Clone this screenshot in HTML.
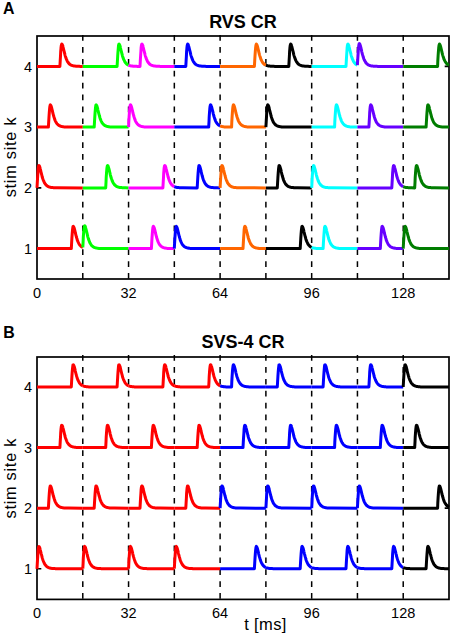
<!DOCTYPE html>
<html><head><meta charset="utf-8"><style>
html,body{margin:0;padding:0;background:#fff;}
body{width:454px;height:635px;overflow:hidden;}
svg{display:block;}
text{font-family:"Liberation Sans",sans-serif;fill:#000;}
.tk{font-size:14.5px;}
.al{font-size:16.3px;letter-spacing:0.75px;}
.ti{font-size:18px;font-weight:bold;}
.pl{font-size:15.9px;font-weight:bold;}
.al2{font-size:16.5px;letter-spacing:0.4px;}
</style></head><body>
<svg width="454" height="635" viewBox="0 0 454 635">
<g stroke="#000" stroke-width="1.70" fill="none">
<rect x="37.00" y="36.00" width="412.00" height="243.00"/>
<path d="M37.00,248.60H41.30M444.70,248.60H449.00"/>
<path d="M37.00,187.87H41.30M444.70,187.87H449.00"/>
<path d="M37.00,127.13H41.30M444.70,127.13H449.00"/>
<path d="M37.00,66.40H41.30M444.70,66.40H449.00"/>
</g>
<g stroke="#000" stroke-width="1.50" stroke-dasharray="5.7 6.2">
<line x1="82.78" y1="35.10" x2="82.78" y2="279.00"/>
<line x1="128.56" y1="35.10" x2="128.56" y2="279.00"/>
<line x1="174.33" y1="35.10" x2="174.33" y2="279.00"/>
<line x1="220.11" y1="35.10" x2="220.11" y2="279.00"/>
<line x1="265.89" y1="35.10" x2="265.89" y2="279.00"/>
<line x1="311.67" y1="35.10" x2="311.67" y2="279.00"/>
<line x1="357.44" y1="35.10" x2="357.44" y2="279.00"/>
<line x1="403.22" y1="35.10" x2="403.22" y2="279.00"/>
</g>
<g fill="none" stroke-width="3.00" stroke-linejoin="round" stroke-linecap="butt">
<path d="M37.0,248.6 L71.3,248.6 L71.6,243.3 L71.9,238.2 L72.2,233.8 L72.5,230.2 L72.8,227.7 L73.0,226.5 L73.2,226.3 L73.3,226.3 L73.6,226.7 L73.9,227.3 L74.2,228.1 L74.5,229.1 L74.8,230.3 L75.1,231.5 L75.3,232.7 L75.6,233.9 L75.9,235.1 L76.2,236.2 L76.5,237.3 L76.8,238.3 L77.1,239.2 L77.3,240.1 L77.6,240.8 L77.9,241.6 L78.2,242.2 L78.5,242.8 L78.8,243.4 L79.1,243.9 L79.3,244.4 L79.6,244.8 L79.9,245.1 L80.2,245.5 L80.5,245.8 L80.8,246.1 L81.1,246.3 L81.3,246.6 L81.6,246.8 L81.9,246.9 L82.2,247.1 L82.5,247.3 L82.8,247.4" stroke="#ff0000"/>
<path d="M82.8,247.4 L83.1,242.2 L83.3,237.3 L83.6,232.9 L83.9,229.5 L84.2,227.0 L84.5,225.8 L84.6,225.7 L84.8,225.8 L85.1,226.1 L85.4,226.8 L85.6,227.7 L85.9,228.8 L86.2,229.9 L86.5,231.2 L86.8,232.4 L87.1,233.7 L87.4,234.9 L87.6,236.0 L87.9,237.1 L88.2,238.1 L88.5,239.1 L88.8,239.9 L89.1,240.7 L89.4,241.5 L89.6,242.1 L89.9,242.8 L90.2,243.3 L90.5,243.8 L90.8,244.3 L91.1,244.7 L91.4,245.1 L91.6,245.4 L91.9,245.8 L92.2,246.0 L92.5,246.3 L92.8,246.5 L93.1,246.7 L93.4,246.9 L93.7,247.1 L93.9,247.2 L94.2,247.4 L94.5,247.5 L94.8,247.6 L95.1,247.7 L95.4,247.8 L95.7,247.9 L95.9,248.0 L96.2,248.0 L96.5,248.1 L96.8,248.1 L97.1,248.2 L97.4,248.2 L97.7,248.3 L97.9,248.3 L98.2,248.3 L98.5,248.4 L98.8,248.4 L99.1,248.4 L99.4,248.4 L99.7,248.4 L99.9,248.5 L100.2,248.5 L100.5,248.5 L100.8,248.5 L101.1,248.5 L101.4,248.5 L101.7,248.5 L101.9,248.5 L102.2,248.5 L102.5,248.5 L102.8,248.6 L128.6,248.6" stroke="#00ff00"/>
<path d="M128.6,248.6 L151.4,248.6 L151.7,243.3 L152.0,238.2 L152.3,233.8 L152.6,230.2 L152.9,227.7 L153.2,226.5 L153.3,226.3 L153.4,226.3 L153.7,226.7 L154.0,227.3 L154.3,228.1 L154.6,229.1 L154.9,230.3 L155.2,231.5 L155.4,232.7 L155.7,233.9 L156.0,235.1 L156.3,236.2 L156.6,237.3 L156.9,238.3 L157.2,239.2 L157.5,240.1 L157.7,240.8 L158.0,241.6 L158.3,242.2 L158.6,242.8 L158.9,243.4 L159.2,243.9 L159.5,244.4 L159.7,244.8 L160.0,245.1 L160.3,245.5 L160.6,245.8 L160.9,246.1 L161.2,246.3 L161.5,246.6 L161.7,246.8 L162.0,246.9 L162.3,247.1 L162.6,247.3 L162.9,247.4 L163.2,247.5 L163.5,247.6 L163.7,247.7 L164.0,247.8 L164.3,247.9 L164.6,248.0 L164.9,248.0 L165.2,248.1 L165.5,248.1 L165.8,248.2 L166.0,248.2 L166.3,248.3 L166.6,248.3 L166.9,248.3 L167.2,248.4 L167.5,248.4 L167.8,248.4 L168.0,248.4 L168.3,248.4 L168.6,248.5 L168.9,248.5 L169.2,248.5 L169.5,248.5 L169.8,248.5 L170.0,248.5 L170.3,248.5 L170.6,248.5 L170.9,248.5 L171.2,248.5 L171.5,248.6 L174.3,248.6" stroke="#ff00ff"/>
<path d="M174.3,248.6 L174.6,243.2 L174.9,238.2 L175.2,233.8 L175.5,230.2 L175.8,227.7 L176.1,226.5 L176.2,226.3 L176.3,226.3 L176.6,226.7 L176.9,227.3 L177.2,228.1 L177.5,229.1 L177.8,230.3 L178.1,231.5 L178.3,232.7 L178.6,233.9 L178.9,235.1 L179.2,236.2 L179.5,237.3 L179.8,238.3 L180.1,239.2 L180.3,240.1 L180.6,240.8 L180.9,241.6 L181.2,242.2 L181.5,242.8 L181.8,243.4 L182.1,243.9 L182.3,244.4 L182.6,244.8 L182.9,245.1 L183.2,245.5 L183.5,245.8 L183.8,246.1 L184.1,246.3 L184.3,246.6 L184.6,246.8 L184.9,246.9 L185.2,247.1 L185.5,247.3 L185.8,247.4 L186.1,247.5 L186.4,247.6 L186.6,247.7 L186.9,247.8 L187.2,247.9 L187.5,248.0 L187.8,248.0 L188.1,248.1 L188.4,248.1 L188.6,248.2 L188.9,248.2 L189.2,248.3 L189.5,248.3 L189.8,248.3 L190.1,248.4 L190.4,248.4 L190.6,248.4 L190.9,248.4 L191.2,248.4 L191.5,248.5 L191.8,248.5 L192.1,248.5 L192.4,248.5 L192.6,248.5 L192.9,248.5 L193.2,248.5 L193.5,248.5 L193.8,248.5 L194.1,248.5 L194.4,248.6 L220.1,248.6" stroke="#0000ff"/>
<path d="M220.1,248.6 L243.0,248.6 L243.3,243.3 L243.6,238.2 L243.9,233.8 L244.1,230.2 L244.4,227.7 L244.7,226.5 L244.9,226.3 L245.0,226.3 L245.3,226.7 L245.6,227.3 L245.9,228.1 L246.1,229.1 L246.4,230.3 L246.7,231.5 L247.0,232.7 L247.3,233.9 L247.6,235.1 L247.9,236.2 L248.1,237.3 L248.4,238.3 L248.7,239.2 L249.0,240.1 L249.3,240.8 L249.6,241.6 L249.9,242.2 L250.2,242.8 L250.4,243.4 L250.7,243.9 L251.0,244.4 L251.3,244.8 L251.6,245.1 L251.9,245.5 L252.2,245.8 L252.4,246.1 L252.7,246.3 L253.0,246.6 L253.3,246.8 L253.6,246.9 L253.9,247.1 L254.2,247.3 L254.4,247.4 L254.7,247.5 L255.0,247.6 L255.3,247.7 L255.6,247.8 L255.9,247.9 L256.2,248.0 L256.4,248.0 L256.7,248.1 L257.0,248.1 L257.3,248.2 L257.6,248.2 L257.9,248.3 L258.2,248.3 L258.5,248.3 L258.7,248.4 L259.0,248.4 L259.3,248.4 L259.6,248.4 L259.9,248.4 L260.2,248.5 L260.5,248.5 L260.7,248.5 L261.0,248.5 L261.3,248.5 L261.6,248.5 L261.9,248.5 L262.2,248.5 L262.5,248.5 L262.7,248.5 L263.0,248.6 L265.9,248.6" stroke="#ff6600"/>
<path d="M265.9,248.6 L300.2,248.6 L300.5,243.3 L300.8,238.2 L301.1,233.8 L301.4,230.2 L301.7,227.7 L301.9,226.5 L302.1,226.3 L302.2,226.3 L302.5,226.7 L302.8,227.3 L303.1,228.1 L303.4,229.1 L303.7,230.3 L303.9,231.5 L304.2,232.7 L304.5,233.9 L304.8,235.1 L305.1,236.2 L305.4,237.3 L305.7,238.3 L305.9,239.2 L306.2,240.1 L306.5,240.8 L306.8,241.6 L307.1,242.2 L307.4,242.8 L307.7,243.4 L307.9,243.9 L308.2,244.4 L308.5,244.8 L308.8,245.1 L309.1,245.5 L309.4,245.8 L309.7,246.1 L310.0,246.3 L310.2,246.6 L310.5,246.8 L310.8,246.9 L311.1,247.1 L311.4,247.3 L311.7,247.4" stroke="#000000"/>
<path d="M311.7,247.4 L312.0,247.5 L312.2,247.6 L312.5,247.7 L312.8,247.8 L313.1,247.9 L313.4,248.0 L313.7,248.0 L314.0,248.1 L314.2,248.1 L314.5,248.2 L314.8,248.2 L315.1,248.3 L315.4,248.3 L315.7,248.3 L316.0,248.4 L316.2,248.4 L316.5,248.4 L316.8,248.4 L317.1,248.4 L317.4,248.5 L317.7,248.5 L318.0,248.5 L318.2,248.5 L318.5,248.5 L318.8,248.5 L319.1,248.5 L319.4,248.5 L319.7,248.5 L320.0,248.5 L320.2,248.6 L323.1,248.6 L323.4,243.2 L323.7,238.2 L324.0,233.8 L324.3,230.2 L324.5,227.7 L324.8,226.5 L325.0,226.3 L325.1,226.3 L325.4,226.7 L325.7,227.3 L326.0,228.1 L326.3,229.1 L326.5,230.3 L326.8,231.5 L327.1,232.7 L327.4,233.9 L327.7,235.1 L328.0,236.2 L328.3,237.3 L328.5,238.3 L328.8,239.2 L329.1,240.1 L329.4,240.8 L329.7,241.6 L330.0,242.2 L330.3,242.8 L330.5,243.4 L330.8,243.9 L331.1,244.4 L331.4,244.8 L331.7,245.1 L332.0,245.5 L332.3,245.8 L332.6,246.1 L332.8,246.3 L333.1,246.6 L333.4,246.8 L333.7,246.9 L334.0,247.1 L334.3,247.3 L334.6,247.4 L334.8,247.5 L335.1,247.6 L335.4,247.7 L335.7,247.8 L336.0,247.9 L336.3,248.0 L336.6,248.0 L336.8,248.1 L337.1,248.1 L337.4,248.2 L337.7,248.2 L338.0,248.3 L338.3,248.3 L338.6,248.3 L338.8,248.4 L339.1,248.4 L339.4,248.4 L339.7,248.4 L340.0,248.4 L340.3,248.5 L340.6,248.5 L340.9,248.5 L341.1,248.5 L341.4,248.5 L341.7,248.5 L342.0,248.5 L342.3,248.5 L342.6,248.5 L342.9,248.5 L343.1,248.6 L357.4,248.6" stroke="#00ffff"/>
<path d="M357.4,248.6 L380.3,248.6 L380.6,243.3 L380.9,238.2 L381.2,233.8 L381.5,230.2 L381.8,227.7 L382.0,226.5 L382.2,226.3 L382.3,226.3 L382.6,226.7 L382.9,227.3 L383.2,228.1 L383.5,229.1 L383.8,230.3 L384.1,231.5 L384.3,232.7 L384.6,233.9 L384.9,235.1 L385.2,236.2 L385.5,237.3 L385.8,238.3 L386.1,239.2 L386.3,240.1 L386.6,240.8 L386.9,241.6 L387.2,242.2 L387.5,242.8 L387.8,243.4 L388.1,243.9 L388.3,244.4 L388.6,244.8 L388.9,245.1 L389.2,245.5 L389.5,245.8 L389.8,246.1 L390.1,246.3 L390.3,246.6 L390.6,246.8 L390.9,246.9 L391.2,247.1 L391.5,247.3 L391.8,247.4 L392.1,247.5 L392.4,247.6 L392.6,247.7 L392.9,247.8 L393.2,247.9 L393.5,248.0 L393.8,248.0 L394.1,248.1 L394.4,248.1 L394.6,248.2 L394.9,248.2 L395.2,248.3 L395.5,248.3 L395.8,248.3 L396.1,248.4 L396.4,248.4 L396.6,248.4 L396.9,248.4 L397.2,248.4 L397.5,248.5 L397.8,248.5 L398.1,248.5 L398.4,248.5 L398.6,248.5 L398.9,248.5 L399.2,248.5 L399.5,248.5 L399.8,248.5 L400.1,248.5 L400.4,248.6 L403.2,248.6" stroke="#6600ff"/>
<path d="M403.2,248.6 L403.5,243.2 L403.8,238.2 L404.1,233.8 L404.4,230.2 L404.7,227.7 L404.9,226.5 L405.1,226.3 L405.2,226.3 L405.5,226.7 L405.8,227.3 L406.1,228.1 L406.4,229.1 L406.7,230.3 L406.9,231.5 L407.2,232.7 L407.5,233.9 L407.8,235.1 L408.1,236.2 L408.4,237.3 L408.7,238.3 L408.9,239.2 L409.2,240.1 L409.5,240.8 L409.8,241.6 L410.1,242.2 L410.4,242.8 L410.7,243.4 L410.9,243.9 L411.2,244.4 L411.5,244.8 L411.8,245.1 L412.1,245.5 L412.4,245.8 L412.7,246.1 L413.0,246.3 L413.2,246.6 L413.5,246.8 L413.8,246.9 L414.1,247.1 L414.4,247.3 L414.7,247.4 L415.0,247.5 L415.2,247.6 L415.5,247.7 L415.8,247.8 L416.1,247.9 L416.4,248.0 L416.7,248.0 L417.0,248.1 L417.2,248.1 L417.5,248.2 L417.8,248.2 L418.1,248.3 L418.4,248.3 L418.7,248.3 L419.0,248.4 L419.2,248.4 L419.5,248.4 L419.8,248.4 L420.1,248.4 L420.4,248.5 L420.7,248.5 L421.0,248.5 L421.2,248.5 L421.5,248.5 L421.8,248.5 L422.1,248.5 L422.4,248.5 L422.7,248.5 L423.0,248.5 L423.2,248.6 L449.0,248.6" stroke="#007d00"/>
<path d="M37.0,187.9 L37.3,182.5 L37.6,177.5 L37.9,173.1 L38.1,169.5 L38.4,167.0 L38.7,165.7 L38.9,165.6 L39.0,165.6 L39.3,165.9 L39.6,166.5 L39.9,167.4 L40.1,168.4 L40.4,169.5 L40.7,170.7 L41.0,172.0 L41.3,173.2 L41.6,174.3 L41.9,175.5 L42.1,176.5 L42.4,177.5 L42.7,178.5 L43.0,179.3 L43.3,180.1 L43.6,180.8 L43.9,181.5 L44.2,182.1 L44.4,182.7 L44.7,183.2 L45.0,183.6 L45.3,184.0 L45.6,184.4 L45.9,184.8 L46.2,185.1 L46.4,185.3 L46.7,185.6 L47.0,185.8 L47.3,186.0 L47.6,186.2 L47.9,186.4 L48.2,186.5 L48.4,186.7 L48.7,186.8 L49.0,186.9 L49.3,187.0 L49.6,187.1 L49.9,187.2 L50.2,187.2 L50.4,187.3 L50.7,187.4 L51.0,187.4 L51.3,187.5 L51.6,187.5 L51.9,187.5 L52.2,187.6 L52.5,187.6 L52.7,187.6 L53.0,187.6 L53.3,187.7 L53.6,187.7 L53.9,187.7 L54.2,187.7 L54.5,187.7 L54.7,187.8 L55.0,187.8 L55.3,187.8 L55.6,187.8 L55.9,187.8 L56.2,187.8 L56.5,187.8 L56.7,187.8 L57.0,187.8 L82.8,187.9" stroke="#ff0000"/>
<path d="M82.8,187.9 L105.7,187.9 L106.0,182.5 L106.2,177.5 L106.5,173.1 L106.8,169.5 L107.1,167.0 L107.4,165.7 L107.5,165.6 L107.7,165.6 L108.0,165.9 L108.2,166.5 L108.5,167.4 L108.8,168.4 L109.1,169.5 L109.4,170.7 L109.7,172.0 L110.0,173.2 L110.2,174.3 L110.5,175.5 L110.8,176.5 L111.1,177.5 L111.4,178.5 L111.7,179.3 L112.0,180.1 L112.2,180.8 L112.5,181.5 L112.8,182.1 L113.1,182.7 L113.4,183.2 L113.7,183.6 L114.0,184.0 L114.2,184.4 L114.5,184.8 L114.8,185.1 L115.1,185.3 L115.4,185.6 L115.7,185.8 L116.0,186.0 L116.3,186.2 L116.5,186.4 L116.8,186.5 L117.1,186.7 L117.4,186.8 L117.7,186.9 L118.0,187.0 L118.3,187.1 L118.5,187.2 L118.8,187.2 L119.1,187.3 L119.4,187.4 L119.7,187.4 L120.0,187.5 L120.3,187.5 L120.5,187.5 L120.8,187.6 L121.1,187.6 L121.4,187.6 L121.7,187.6 L122.0,187.7 L122.3,187.7 L122.5,187.7 L122.8,187.7 L123.1,187.7 L123.4,187.8 L123.7,187.8 L124.0,187.8 L124.3,187.8 L124.6,187.8 L124.8,187.8 L125.1,187.8 L125.4,187.8 L125.7,187.8 L128.6,187.9" stroke="#00ff00"/>
<path d="M128.6,187.9 L162.9,187.9 L163.2,182.5 L163.5,177.5 L163.7,173.1 L164.0,169.5 L164.3,167.0 L164.6,165.7 L164.7,165.6 L164.9,165.6 L165.2,165.9 L165.5,166.5 L165.8,167.4 L166.0,168.4 L166.3,169.5 L166.6,170.7 L166.9,172.0 L167.2,173.2 L167.5,174.3 L167.8,175.5 L168.0,176.5 L168.3,177.5 L168.6,178.5 L168.9,179.3 L169.2,180.1 L169.5,180.8 L169.8,181.5 L170.0,182.1 L170.3,182.7 L170.6,183.2 L170.9,183.6 L171.2,184.0 L171.5,184.4 L171.8,184.8 L172.0,185.1 L172.3,185.3 L172.6,185.6 L172.9,185.8 L173.2,186.0 L173.5,186.2 L173.8,186.4 L174.0,186.5 L174.3,186.7" stroke="#ff00ff"/>
<path d="M174.3,186.7 L174.6,186.8 L174.9,186.9 L175.2,187.0 L175.5,187.1 L175.8,187.2 L176.1,187.2 L176.3,187.3 L176.6,187.4 L176.9,187.4 L177.2,187.5 L177.5,187.5 L177.8,187.5 L178.1,187.6 L178.3,187.6 L178.6,187.6 L178.9,187.6 L179.2,187.7 L179.5,187.7 L179.8,187.7 L180.1,187.7 L180.3,187.7 L180.6,187.8 L180.9,187.8 L181.2,187.8 L181.5,187.8 L181.8,187.8 L182.1,187.8 L182.3,187.8 L182.6,187.8 L182.9,187.8 L197.2,187.9 L197.5,182.5 L197.8,177.5 L198.1,173.1 L198.4,169.5 L198.7,167.0 L198.9,165.7 L199.1,165.6 L199.2,165.6 L199.5,165.9 L199.8,166.5 L200.1,167.4 L200.4,168.4 L200.7,169.5 L200.9,170.7 L201.2,172.0 L201.5,173.2 L201.8,174.3 L202.1,175.5 L202.4,176.5 L202.7,177.5 L202.9,178.5 L203.2,179.3 L203.5,180.1 L203.8,180.8 L204.1,181.5 L204.4,182.1 L204.7,182.7 L204.9,183.2 L205.2,183.6 L205.5,184.0 L205.8,184.4 L206.1,184.8 L206.4,185.1 L206.7,185.3 L206.9,185.6 L207.2,185.8 L207.5,186.0 L207.8,186.2 L208.1,186.4 L208.4,186.5 L208.7,186.7 L209.0,186.8 L209.2,186.9 L209.5,187.0 L209.8,187.1 L210.1,187.2 L210.4,187.2 L210.7,187.3 L211.0,187.4 L211.2,187.4 L211.5,187.5 L211.8,187.5 L212.1,187.5 L212.4,187.6 L212.7,187.6 L213.0,187.6 L213.2,187.6 L213.5,187.7 L213.8,187.7 L214.1,187.7 L214.4,187.7 L214.7,187.7 L215.0,187.8 L215.2,187.8 L215.5,187.8 L215.8,187.8 L216.1,187.8 L216.4,187.8 L216.7,187.8 L217.0,187.8 L217.2,187.8 L220.1,187.9" stroke="#0000ff"/>
<path d="M220.1,187.9 L220.4,182.5 L220.7,177.5 L221.0,173.1 L221.3,169.5 L221.5,167.0 L221.8,165.7 L222.0,165.6 L222.1,165.6 L222.4,165.9 L222.7,166.5 L223.0,167.4 L223.3,168.4 L223.5,169.5 L223.8,170.7 L224.1,172.0 L224.4,173.2 L224.7,174.3 L225.0,175.5 L225.3,176.5 L225.5,177.5 L225.8,178.5 L226.1,179.3 L226.4,180.1 L226.7,180.8 L227.0,181.5 L227.3,182.1 L227.5,182.7 L227.8,183.2 L228.1,183.6 L228.4,184.0 L228.7,184.4 L229.0,184.8 L229.3,185.1 L229.6,185.3 L229.8,185.6 L230.1,185.8 L230.4,186.0 L230.7,186.2 L231.0,186.4 L231.3,186.5 L231.6,186.7 L231.8,186.8 L232.1,186.9 L232.4,187.0 L232.7,187.1 L233.0,187.2 L233.3,187.2 L233.6,187.3 L233.8,187.4 L234.1,187.4 L234.4,187.5 L234.7,187.5 L235.0,187.5 L235.3,187.6 L235.6,187.6 L235.8,187.6 L236.1,187.6 L236.4,187.7 L236.7,187.7 L237.0,187.7 L237.3,187.7 L237.6,187.7 L237.9,187.8 L238.1,187.8 L238.4,187.8 L238.7,187.8 L239.0,187.8 L239.3,187.8 L239.6,187.8 L239.9,187.8 L240.1,187.8 L265.9,187.9" stroke="#ff6600"/>
<path d="M265.9,187.9 L277.3,187.9 L277.6,182.5 L277.9,177.5 L278.2,173.1 L278.5,169.5 L278.8,167.0 L279.0,165.7 L279.2,165.6 L279.3,165.6 L279.6,165.9 L279.9,166.5 L280.2,167.4 L280.5,168.4 L280.8,169.5 L281.1,170.7 L281.3,172.0 L281.6,173.2 L281.9,174.3 L282.2,175.5 L282.5,176.5 L282.8,177.5 L283.1,178.5 L283.3,179.3 L283.6,180.1 L283.9,180.8 L284.2,181.5 L284.5,182.1 L284.8,182.7 L285.1,183.2 L285.3,183.6 L285.6,184.0 L285.9,184.4 L286.2,184.8 L286.5,185.1 L286.8,185.3 L287.1,185.6 L287.3,185.8 L287.6,186.0 L287.9,186.2 L288.2,186.4 L288.5,186.5 L288.8,186.7 L289.1,186.8 L289.4,186.9 L289.6,187.0 L289.9,187.1 L290.2,187.2 L290.5,187.2 L290.8,187.3 L291.1,187.4 L291.4,187.4 L291.6,187.5 L291.9,187.5 L292.2,187.5 L292.5,187.6 L292.8,187.6 L293.1,187.6 L293.4,187.6 L293.6,187.7 L293.9,187.7 L294.2,187.7 L294.5,187.7 L294.8,187.7 L295.1,187.8 L295.4,187.8 L295.6,187.8 L295.9,187.8 L296.2,187.8 L296.5,187.8 L296.8,187.8 L297.1,187.8 L297.4,187.8 L311.7,187.9" stroke="#000000"/>
<path d="M311.7,187.9 L312.0,182.5 L312.2,177.5 L312.5,173.1 L312.8,169.5 L313.1,167.0 L313.4,165.7 L313.5,165.6 L313.7,165.6 L314.0,165.9 L314.2,166.5 L314.5,167.4 L314.8,168.4 L315.1,169.5 L315.4,170.7 L315.7,172.0 L316.0,173.2 L316.2,174.3 L316.5,175.5 L316.8,176.5 L317.1,177.5 L317.4,178.5 L317.7,179.3 L318.0,180.1 L318.2,180.8 L318.5,181.5 L318.8,182.1 L319.1,182.7 L319.4,183.2 L319.7,183.6 L320.0,184.0 L320.2,184.4 L320.5,184.8 L320.8,185.1 L321.1,185.3 L321.4,185.6 L321.7,185.8 L322.0,186.0 L322.3,186.2 L322.5,186.4 L322.8,186.5 L323.1,186.7 L323.4,186.8 L323.7,186.9 L324.0,187.0 L324.3,187.1 L324.5,187.2 L324.8,187.2 L325.1,187.3 L325.4,187.4 L325.7,187.4 L326.0,187.5 L326.3,187.5 L326.5,187.5 L326.8,187.6 L327.1,187.6 L327.4,187.6 L327.7,187.6 L328.0,187.7 L328.3,187.7 L328.5,187.7 L328.8,187.7 L329.1,187.7 L329.4,187.8 L329.7,187.8 L330.0,187.8 L330.3,187.8 L330.5,187.8 L330.8,187.8 L331.1,187.8 L331.4,187.8 L331.7,187.8 L357.4,187.9" stroke="#00ffff"/>
<path d="M357.4,187.9 L391.8,187.9 L392.1,182.5 L392.4,177.5 L392.6,173.1 L392.9,169.5 L393.2,167.0 L393.5,165.7 L393.6,165.6 L393.8,165.6 L394.1,165.9 L394.4,166.5 L394.6,167.4 L394.9,168.4 L395.2,169.5 L395.5,170.7 L395.8,172.0 L396.1,173.2 L396.4,174.3 L396.6,175.5 L396.9,176.5 L397.2,177.5 L397.5,178.5 L397.8,179.3 L398.1,180.1 L398.4,180.8 L398.6,181.5 L398.9,182.1 L399.2,182.7 L399.5,183.2 L399.8,183.6 L400.1,184.0 L400.4,184.4 L400.6,184.8 L400.9,185.1 L401.2,185.3 L401.5,185.6 L401.8,185.8 L402.1,186.0 L402.4,186.2 L402.6,186.4 L402.9,186.5 L403.2,186.7" stroke="#6600ff"/>
<path d="M403.2,186.7 L403.5,186.8 L403.8,186.9 L404.1,187.0 L404.4,187.1 L404.7,187.2 L404.9,187.2 L405.2,187.3 L405.5,187.4 L405.8,187.4 L406.1,187.5 L406.4,187.5 L406.7,187.5 L406.9,187.6 L407.2,187.6 L407.5,187.6 L407.8,187.6 L408.1,187.7 L408.4,187.7 L408.7,187.7 L408.9,187.7 L409.2,187.7 L409.5,187.8 L409.8,187.8 L410.1,187.8 L410.4,187.8 L410.7,187.8 L410.9,187.8 L411.2,187.8 L411.5,187.8 L411.8,187.8 L414.7,187.9 L415.0,182.5 L415.2,177.5 L415.5,173.1 L415.8,169.5 L416.1,167.0 L416.4,165.7 L416.5,165.6 L416.7,165.6 L417.0,165.9 L417.2,166.5 L417.5,167.4 L417.8,168.4 L418.1,169.5 L418.4,170.7 L418.7,172.0 L419.0,173.2 L419.2,174.3 L419.5,175.5 L419.8,176.5 L420.1,177.5 L420.4,178.5 L420.7,179.3 L421.0,180.1 L421.2,180.8 L421.5,181.5 L421.8,182.1 L422.1,182.7 L422.4,183.2 L422.7,183.6 L423.0,184.0 L423.2,184.4 L423.5,184.8 L423.8,185.1 L424.1,185.3 L424.4,185.6 L424.7,185.8 L425.0,186.0 L425.3,186.2 L425.5,186.4 L425.8,186.5 L426.1,186.7 L426.4,186.8 L426.7,186.9 L427.0,187.0 L427.3,187.1 L427.5,187.2 L427.8,187.2 L428.1,187.3 L428.4,187.4 L428.7,187.4 L429.0,187.5 L429.3,187.5 L429.5,187.5 L429.8,187.6 L430.1,187.6 L430.4,187.6 L430.7,187.6 L431.0,187.7 L431.3,187.7 L431.5,187.7 L431.8,187.7 L432.1,187.7 L432.4,187.8 L432.7,187.8 L433.0,187.8 L433.3,187.8 L433.5,187.8 L433.8,187.8 L434.1,187.8 L434.4,187.8 L434.7,187.8 L449.0,187.9" stroke="#007d00"/>
<path d="M37.0,127.1 L48.4,127.1 L48.7,121.8 L49.0,116.8 L49.3,112.3 L49.6,108.8 L49.9,106.3 L50.2,105.0 L50.3,104.8 L50.4,104.9 L50.7,105.2 L51.0,105.8 L51.3,106.6 L51.6,107.7 L51.9,108.8 L52.2,110.0 L52.5,111.2 L52.7,112.4 L53.0,113.6 L53.3,114.7 L53.6,115.8 L53.9,116.8 L54.2,117.7 L54.5,118.6 L54.7,119.4 L55.0,120.1 L55.3,120.8 L55.6,121.4 L55.9,121.9 L56.2,122.4 L56.5,122.9 L56.7,123.3 L57.0,123.7 L57.3,124.0 L57.6,124.3 L57.9,124.6 L58.2,124.9 L58.5,125.1 L58.7,125.3 L59.0,125.5 L59.3,125.6 L59.6,125.8 L59.9,125.9 L60.2,126.0 L60.5,126.2 L60.7,126.3 L61.0,126.3 L61.3,126.4 L61.6,126.5 L61.9,126.6 L62.2,126.6 L62.5,126.7 L62.8,126.7 L63.0,126.8 L63.3,126.8 L63.6,126.8 L63.9,126.9 L64.2,126.9 L64.5,126.9 L64.8,126.9 L65.0,127.0 L65.3,127.0 L65.6,127.0 L65.9,127.0 L66.2,127.0 L66.5,127.0 L66.8,127.0 L67.0,127.1 L67.3,127.1 L67.6,127.1 L67.9,127.1 L68.2,127.1 L68.5,127.1 L82.8,127.1" stroke="#ff0000"/>
<path d="M82.8,127.1 L94.2,127.1 L94.5,121.8 L94.8,116.8 L95.1,112.3 L95.4,108.8 L95.7,106.3 L95.9,105.0 L96.1,104.8 L96.2,104.9 L96.5,105.2 L96.8,105.8 L97.1,106.6 L97.4,107.7 L97.7,108.8 L97.9,110.0 L98.2,111.2 L98.5,112.4 L98.8,113.6 L99.1,114.7 L99.4,115.8 L99.7,116.8 L99.9,117.7 L100.2,118.6 L100.5,119.4 L100.8,120.1 L101.1,120.8 L101.4,121.4 L101.7,121.9 L101.9,122.4 L102.2,122.9 L102.5,123.3 L102.8,123.7 L103.1,124.0 L103.4,124.3 L103.7,124.6 L103.9,124.9 L104.2,125.1 L104.5,125.3 L104.8,125.5 L105.1,125.6 L105.4,125.8 L105.7,125.9 L106.0,126.0 L106.2,126.2 L106.5,126.3 L106.8,126.3 L107.1,126.4 L107.4,126.5 L107.7,126.6 L108.0,126.6 L108.2,126.7 L108.5,126.7 L108.8,126.8 L109.1,126.8 L109.4,126.8 L109.7,126.9 L110.0,126.9 L110.2,126.9 L110.5,126.9 L110.8,127.0 L111.1,127.0 L111.4,127.0 L111.7,127.0 L112.0,127.0 L112.2,127.0 L112.5,127.0 L112.8,127.1 L113.1,127.1 L113.4,127.1 L113.7,127.1 L114.0,127.1 L114.2,127.1 L128.6,127.1" stroke="#00ff00"/>
<path d="M128.6,127.1 L128.8,121.8 L129.1,116.8 L129.4,112.3 L129.7,108.8 L130.0,106.3 L130.3,105.0 L130.4,104.8 L130.6,104.9 L130.8,105.2 L131.1,105.8 L131.4,106.6 L131.7,107.7 L132.0,108.8 L132.3,110.0 L132.6,111.2 L132.8,112.4 L133.1,113.6 L133.4,114.7 L133.7,115.8 L134.0,116.8 L134.3,117.7 L134.6,118.6 L134.9,119.4 L135.1,120.1 L135.4,120.8 L135.7,121.4 L136.0,121.9 L136.3,122.4 L136.6,122.9 L136.9,123.3 L137.1,123.7 L137.4,124.0 L137.7,124.3 L138.0,124.6 L138.3,124.9 L138.6,125.1 L138.9,125.3 L139.1,125.5 L139.4,125.6 L139.7,125.8 L140.0,125.9 L140.3,126.0 L140.6,126.2 L140.9,126.3 L141.1,126.3 L141.4,126.4 L141.7,126.5 L142.0,126.6 L142.3,126.6 L142.6,126.7 L142.9,126.7 L143.1,126.8 L143.4,126.8 L143.7,126.8 L144.0,126.9 L144.3,126.9 L144.6,126.9 L144.9,126.9 L145.1,127.0 L145.4,127.0 L145.7,127.0 L146.0,127.0 L146.3,127.0 L146.6,127.0 L146.9,127.0 L147.2,127.1 L147.4,127.1 L147.7,127.1 L148.0,127.1 L148.3,127.1 L148.6,127.1 L174.3,127.1" stroke="#ff00ff"/>
<path d="M174.3,127.1 L208.7,127.1 L209.0,121.8 L209.2,116.8 L209.5,112.3 L209.8,108.8 L210.1,106.3 L210.4,105.0 L210.5,104.8 L210.7,104.9 L211.0,105.2 L211.2,105.8 L211.5,106.6 L211.8,107.7 L212.1,108.8 L212.4,110.0 L212.7,111.2 L213.0,112.4 L213.2,113.6 L213.5,114.7 L213.8,115.8 L214.1,116.8 L214.4,117.7 L214.7,118.6 L215.0,119.4 L215.2,120.1 L215.5,120.8 L215.8,121.4 L216.1,121.9 L216.4,122.4 L216.7,122.9 L217.0,123.3 L217.2,123.7 L217.5,124.0 L217.8,124.3 L218.1,124.6 L218.4,124.9 L218.7,125.1 L219.0,125.3 L219.3,125.5 L219.5,125.6 L219.8,125.8 L220.1,125.9" stroke="#0000ff"/>
<path d="M220.1,125.9 L220.4,126.0 L220.7,126.2 L221.0,126.3 L221.3,126.3 L221.5,126.4 L221.8,126.5 L222.1,126.6 L222.4,126.6 L222.7,126.7 L223.0,126.7 L223.3,126.8 L223.5,126.8 L223.8,126.8 L224.1,126.9 L224.4,126.9 L224.7,126.9 L225.0,126.9 L225.3,127.0 L225.5,127.0 L225.8,127.0 L226.1,127.0 L226.4,127.0 L226.7,127.0 L227.0,127.0 L227.3,127.1 L227.5,127.1 L227.8,127.1 L228.1,127.1 L228.4,127.1 L228.7,127.1 L231.6,127.1 L231.8,121.8 L232.1,116.8 L232.4,112.3 L232.7,108.8 L233.0,106.3 L233.3,105.0 L233.4,104.8 L233.6,104.9 L233.8,105.2 L234.1,105.8 L234.4,106.6 L234.7,107.7 L235.0,108.8 L235.3,110.0 L235.6,111.2 L235.8,112.4 L236.1,113.6 L236.4,114.7 L236.7,115.8 L237.0,116.8 L237.3,117.7 L237.6,118.6 L237.9,119.4 L238.1,120.1 L238.4,120.8 L238.7,121.4 L239.0,121.9 L239.3,122.4 L239.6,122.9 L239.9,123.3 L240.1,123.7 L240.4,124.0 L240.7,124.3 L241.0,124.6 L241.3,124.9 L241.6,125.1 L241.9,125.3 L242.1,125.5 L242.4,125.6 L242.7,125.8 L243.0,125.9 L243.3,126.0 L243.6,126.2 L243.9,126.3 L244.1,126.3 L244.4,126.4 L244.7,126.5 L245.0,126.6 L245.3,126.6 L245.6,126.7 L245.9,126.7 L246.1,126.8 L246.4,126.8 L246.7,126.8 L247.0,126.9 L247.3,126.9 L247.6,126.9 L247.9,126.9 L248.1,127.0 L248.4,127.0 L248.7,127.0 L249.0,127.0 L249.3,127.0 L249.6,127.0 L249.9,127.0 L250.2,127.1 L250.4,127.1 L250.7,127.1 L251.0,127.1 L251.3,127.1 L251.6,127.1 L265.9,127.1" stroke="#ff6600"/>
<path d="M265.9,127.1 L266.2,121.8 L266.5,116.8 L266.7,112.3 L267.0,108.8 L267.3,106.3 L267.6,105.0 L267.7,104.8 L267.9,104.9 L268.2,105.2 L268.5,105.8 L268.8,106.6 L269.0,107.7 L269.3,108.8 L269.6,110.0 L269.9,111.2 L270.2,112.4 L270.5,113.6 L270.8,114.7 L271.0,115.8 L271.3,116.8 L271.6,117.7 L271.9,118.6 L272.2,119.4 L272.5,120.1 L272.8,120.8 L273.0,121.4 L273.3,121.9 L273.6,122.4 L273.9,122.9 L274.2,123.3 L274.5,123.7 L274.8,124.0 L275.0,124.3 L275.3,124.6 L275.6,124.9 L275.9,125.1 L276.2,125.3 L276.5,125.5 L276.8,125.6 L277.0,125.8 L277.3,125.9 L277.6,126.0 L277.9,126.2 L278.2,126.3 L278.5,126.3 L278.8,126.4 L279.0,126.5 L279.3,126.6 L279.6,126.6 L279.9,126.7 L280.2,126.7 L280.5,126.8 L280.8,126.8 L281.1,126.8 L281.3,126.9 L281.6,126.9 L281.9,126.9 L282.2,126.9 L282.5,127.0 L282.8,127.0 L283.1,127.0 L283.3,127.0 L283.6,127.0 L283.9,127.0 L284.2,127.0 L284.5,127.1 L284.8,127.1 L285.1,127.1 L285.3,127.1 L285.6,127.1 L285.9,127.1 L311.7,127.1" stroke="#000000"/>
<path d="M311.7,127.1 L334.6,127.1 L334.8,121.8 L335.1,116.8 L335.4,112.3 L335.7,108.8 L336.0,106.3 L336.3,105.0 L336.4,104.8 L336.6,104.9 L336.8,105.2 L337.1,105.8 L337.4,106.6 L337.7,107.7 L338.0,108.8 L338.3,110.0 L338.6,111.2 L338.8,112.4 L339.1,113.6 L339.4,114.7 L339.7,115.8 L340.0,116.8 L340.3,117.7 L340.6,118.6 L340.9,119.4 L341.1,120.1 L341.4,120.8 L341.7,121.4 L342.0,121.9 L342.3,122.4 L342.6,122.9 L342.9,123.3 L343.1,123.7 L343.4,124.0 L343.7,124.3 L344.0,124.6 L344.3,124.9 L344.6,125.1 L344.9,125.3 L345.1,125.5 L345.4,125.6 L345.7,125.8 L346.0,125.9 L346.3,126.0 L346.6,126.2 L346.9,126.3 L347.1,126.3 L347.4,126.4 L347.7,126.5 L348.0,126.6 L348.3,126.6 L348.6,126.7 L348.9,126.7 L349.1,126.8 L349.4,126.8 L349.7,126.8 L350.0,126.9 L350.3,126.9 L350.6,126.9 L350.9,126.9 L351.1,127.0 L351.4,127.0 L351.7,127.0 L352.0,127.0 L352.3,127.0 L352.6,127.0 L352.9,127.0 L353.2,127.1 L353.4,127.1 L353.7,127.1 L354.0,127.1 L354.3,127.1 L354.6,127.1 L357.4,127.1" stroke="#00ffff"/>
<path d="M357.4,127.1 L368.9,127.1 L369.2,121.8 L369.5,116.8 L369.7,112.3 L370.0,108.8 L370.3,106.3 L370.6,105.0 L370.7,104.8 L370.9,104.9 L371.2,105.2 L371.5,105.8 L371.8,106.6 L372.0,107.7 L372.3,108.8 L372.6,110.0 L372.9,111.2 L373.2,112.4 L373.5,113.6 L373.8,114.7 L374.0,115.8 L374.3,116.8 L374.6,117.7 L374.9,118.6 L375.2,119.4 L375.5,120.1 L375.8,120.8 L376.0,121.4 L376.3,121.9 L376.6,122.4 L376.9,122.9 L377.2,123.3 L377.5,123.7 L377.8,124.0 L378.0,124.3 L378.3,124.6 L378.6,124.9 L378.9,125.1 L379.2,125.3 L379.5,125.5 L379.8,125.6 L380.0,125.8 L380.3,125.9 L380.6,126.0 L380.9,126.2 L381.2,126.3 L381.5,126.3 L381.8,126.4 L382.0,126.5 L382.3,126.6 L382.6,126.6 L382.9,126.7 L383.2,126.7 L383.5,126.8 L383.8,126.8 L384.1,126.8 L384.3,126.9 L384.6,126.9 L384.9,126.9 L385.2,126.9 L385.5,127.0 L385.8,127.0 L386.1,127.0 L386.3,127.0 L386.6,127.0 L386.9,127.0 L387.2,127.0 L387.5,127.1 L387.8,127.1 L388.1,127.1 L388.3,127.1 L388.6,127.1 L388.9,127.1 L403.2,127.1" stroke="#6600ff"/>
<path d="M403.2,127.1 L426.1,127.1 L426.4,121.8 L426.7,116.8 L427.0,112.3 L427.3,108.8 L427.5,106.3 L427.8,105.0 L428.0,104.8 L428.1,104.9 L428.4,105.2 L428.7,105.8 L429.0,106.6 L429.3,107.7 L429.5,108.8 L429.8,110.0 L430.1,111.2 L430.4,112.4 L430.7,113.6 L431.0,114.7 L431.3,115.8 L431.5,116.8 L431.8,117.7 L432.1,118.6 L432.4,119.4 L432.7,120.1 L433.0,120.8 L433.3,121.4 L433.5,121.9 L433.8,122.4 L434.1,122.9 L434.4,123.3 L434.7,123.7 L435.0,124.0 L435.3,124.3 L435.6,124.6 L435.8,124.9 L436.1,125.1 L436.4,125.3 L436.7,125.5 L437.0,125.6 L437.3,125.8 L437.6,125.9 L437.8,126.0 L438.1,126.2 L438.4,126.3 L438.7,126.3 L439.0,126.4 L439.3,126.5 L439.6,126.6 L439.8,126.6 L440.1,126.7 L440.4,126.7 L440.7,126.8 L441.0,126.8 L441.3,126.8 L441.6,126.9 L441.8,126.9 L442.1,126.9 L442.4,126.9 L442.7,127.0 L443.0,127.0 L443.3,127.0 L443.6,127.0 L443.8,127.0 L444.1,127.0 L444.4,127.0 L444.7,127.1 L445.0,127.1 L445.3,127.1 L445.6,127.1 L445.9,127.1 L446.1,127.1 L449.0,127.1" stroke="#007d00"/>
<path d="M37.0,66.4 L59.9,66.4 L60.2,61.1 L60.5,56.0 L60.7,51.6 L61.0,48.0 L61.3,45.5 L61.6,44.3 L61.7,44.1 L61.9,44.1 L62.2,44.5 L62.5,45.1 L62.8,45.9 L63.0,46.9 L63.3,48.1 L63.6,49.3 L63.9,50.5 L64.2,51.7 L64.5,52.9 L64.8,54.0 L65.0,55.1 L65.3,56.1 L65.6,57.0 L65.9,57.9 L66.2,58.6 L66.5,59.4 L66.8,60.0 L67.0,60.6 L67.3,61.2 L67.6,61.7 L67.9,62.2 L68.2,62.6 L68.5,62.9 L68.8,63.3 L69.0,63.6 L69.3,63.9 L69.6,64.1 L69.9,64.4 L70.2,64.6 L70.5,64.7 L70.8,64.9 L71.0,65.1 L71.3,65.2 L71.6,65.3 L71.9,65.4 L72.2,65.5 L72.5,65.6 L72.8,65.7 L73.1,65.8 L73.3,65.8 L73.6,65.9 L73.9,65.9 L74.2,66.0 L74.5,66.0 L74.8,66.1 L75.1,66.1 L75.3,66.1 L75.6,66.2 L75.9,66.2 L76.2,66.2 L76.5,66.2 L76.8,66.2 L77.1,66.3 L77.3,66.3 L77.6,66.3 L77.9,66.3 L78.2,66.3 L78.5,66.3 L78.8,66.3 L79.1,66.3 L79.3,66.3 L79.6,66.3 L79.9,66.4 L82.8,66.4" stroke="#ff0000"/>
<path d="M82.8,66.4 L117.1,66.4 L117.4,61.1 L117.7,56.0 L118.0,51.6 L118.3,48.0 L118.5,45.5 L118.8,44.3 L119.0,44.1 L119.1,44.1 L119.4,44.5 L119.7,45.1 L120.0,45.9 L120.3,46.9 L120.5,48.1 L120.8,49.3 L121.1,50.5 L121.4,51.7 L121.7,52.9 L122.0,54.0 L122.3,55.1 L122.5,56.1 L122.8,57.0 L123.1,57.9 L123.4,58.6 L123.7,59.4 L124.0,60.0 L124.3,60.6 L124.6,61.2 L124.8,61.7 L125.1,62.2 L125.4,62.6 L125.7,62.9 L126.0,63.3 L126.3,63.6 L126.6,63.9 L126.8,64.1 L127.1,64.4 L127.4,64.6 L127.7,64.7 L128.0,64.9 L128.3,65.1 L128.6,65.2" stroke="#00ff00"/>
<path d="M128.6,65.2 L128.8,65.3 L129.1,65.4 L129.4,65.5 L129.7,65.6 L130.0,65.7 L130.3,65.8 L130.6,65.8 L130.8,65.9 L131.1,65.9 L131.4,66.0 L131.7,66.0 L132.0,66.1 L132.3,66.1 L132.6,66.1 L132.8,66.2 L133.1,66.2 L133.4,66.2 L133.7,66.2 L134.0,66.2 L134.3,66.3 L134.6,66.3 L134.9,66.3 L135.1,66.3 L135.4,66.3 L135.7,66.3 L136.0,66.3 L136.3,66.3 L136.6,66.3 L136.9,66.3 L137.1,66.4 L140.0,66.4 L140.3,61.0 L140.6,56.0 L140.9,51.6 L141.1,48.0 L141.4,45.5 L141.7,44.3 L141.9,44.1 L142.0,44.1 L142.3,44.5 L142.6,45.1 L142.9,45.9 L143.1,46.9 L143.4,48.1 L143.7,49.3 L144.0,50.5 L144.3,51.7 L144.6,52.9 L144.9,54.0 L145.1,55.1 L145.4,56.1 L145.7,57.0 L146.0,57.9 L146.3,58.6 L146.6,59.4 L146.9,60.0 L147.2,60.6 L147.4,61.2 L147.7,61.7 L148.0,62.2 L148.3,62.6 L148.6,62.9 L148.9,63.3 L149.2,63.6 L149.4,63.9 L149.7,64.1 L150.0,64.4 L150.3,64.6 L150.6,64.7 L150.9,64.9 L151.2,65.1 L151.4,65.2 L151.7,65.3 L152.0,65.4 L152.3,65.5 L152.6,65.6 L152.9,65.7 L153.2,65.8 L153.4,65.8 L153.7,65.9 L154.0,65.9 L154.3,66.0 L154.6,66.0 L154.9,66.1 L155.2,66.1 L155.4,66.1 L155.7,66.2 L156.0,66.2 L156.3,66.2 L156.6,66.2 L156.9,66.2 L157.2,66.3 L157.5,66.3 L157.7,66.3 L158.0,66.3 L158.3,66.3 L158.6,66.3 L158.9,66.3 L159.2,66.3 L159.5,66.3 L159.7,66.3 L160.0,66.4 L174.3,66.4" stroke="#ff00ff"/>
<path d="M174.3,66.4 L185.8,66.4 L186.1,61.1 L186.4,56.0 L186.6,51.6 L186.9,48.0 L187.2,45.5 L187.5,44.3 L187.6,44.1 L187.8,44.1 L188.1,44.5 L188.4,45.1 L188.6,45.9 L188.9,46.9 L189.2,48.1 L189.5,49.3 L189.8,50.5 L190.1,51.7 L190.4,52.9 L190.6,54.0 L190.9,55.1 L191.2,56.1 L191.5,57.0 L191.8,57.9 L192.1,58.6 L192.4,59.4 L192.6,60.0 L192.9,60.6 L193.2,61.2 L193.5,61.7 L193.8,62.2 L194.1,62.6 L194.4,62.9 L194.6,63.3 L194.9,63.6 L195.2,63.9 L195.5,64.1 L195.8,64.4 L196.1,64.6 L196.4,64.7 L196.6,64.9 L196.9,65.1 L197.2,65.2 L197.5,65.3 L197.8,65.4 L198.1,65.5 L198.4,65.6 L198.7,65.7 L198.9,65.8 L199.2,65.8 L199.5,65.9 L199.8,65.9 L200.1,66.0 L200.4,66.0 L200.7,66.1 L200.9,66.1 L201.2,66.1 L201.5,66.2 L201.8,66.2 L202.1,66.2 L202.4,66.2 L202.7,66.2 L202.9,66.3 L203.2,66.3 L203.5,66.3 L203.8,66.3 L204.1,66.3 L204.4,66.3 L204.7,66.3 L204.9,66.3 L205.2,66.3 L205.5,66.3 L205.8,66.4 L220.1,66.4" stroke="#0000ff"/>
<path d="M220.1,66.4 L254.4,66.4 L254.7,61.1 L255.0,56.0 L255.3,51.6 L255.6,48.0 L255.9,45.5 L256.2,44.3 L256.3,44.1 L256.4,44.1 L256.7,44.5 L257.0,45.1 L257.3,45.9 L257.6,46.9 L257.9,48.1 L258.2,49.3 L258.5,50.5 L258.7,51.7 L259.0,52.9 L259.3,54.0 L259.6,55.1 L259.9,56.1 L260.2,57.0 L260.5,57.9 L260.7,58.6 L261.0,59.4 L261.3,60.0 L261.6,60.6 L261.9,61.2 L262.2,61.7 L262.5,62.2 L262.7,62.6 L263.0,62.9 L263.3,63.3 L263.6,63.6 L263.9,63.9 L264.2,64.1 L264.5,64.4 L264.7,64.6 L265.0,64.7 L265.3,64.9 L265.6,65.1 L265.9,65.2" stroke="#ff6600"/>
<path d="M265.9,65.2 L266.2,65.3 L266.5,65.4 L266.7,65.5 L267.0,65.6 L267.3,65.7 L267.6,65.8 L267.9,65.8 L268.2,65.9 L268.5,65.9 L268.8,66.0 L269.0,66.0 L269.3,66.1 L269.6,66.1 L269.9,66.1 L270.2,66.2 L270.5,66.2 L270.8,66.2 L271.0,66.2 L271.3,66.2 L271.6,66.3 L271.9,66.3 L272.2,66.3 L272.5,66.3 L272.8,66.3 L273.0,66.3 L273.3,66.3 L273.6,66.3 L273.9,66.3 L274.2,66.3 L274.5,66.4 L288.8,66.4 L289.1,61.1 L289.4,56.0 L289.6,51.6 L289.9,48.0 L290.2,45.5 L290.5,44.3 L290.6,44.1 L290.8,44.1 L291.1,44.5 L291.4,45.1 L291.6,45.9 L291.9,46.9 L292.2,48.1 L292.5,49.3 L292.8,50.5 L293.1,51.7 L293.4,52.9 L293.6,54.0 L293.9,55.1 L294.2,56.1 L294.5,57.0 L294.8,57.9 L295.1,58.6 L295.4,59.4 L295.6,60.0 L295.9,60.6 L296.2,61.2 L296.5,61.7 L296.8,62.2 L297.1,62.6 L297.4,62.9 L297.6,63.3 L297.9,63.6 L298.2,63.9 L298.5,64.1 L298.8,64.4 L299.1,64.6 L299.4,64.7 L299.6,64.9 L299.9,65.1 L300.2,65.2 L300.5,65.3 L300.8,65.4 L301.1,65.5 L301.4,65.6 L301.7,65.7 L301.9,65.8 L302.2,65.8 L302.5,65.9 L302.8,65.9 L303.1,66.0 L303.4,66.0 L303.7,66.1 L303.9,66.1 L304.2,66.1 L304.5,66.2 L304.8,66.2 L305.1,66.2 L305.4,66.2 L305.7,66.2 L305.9,66.3 L306.2,66.3 L306.5,66.3 L306.8,66.3 L307.1,66.3 L307.4,66.3 L307.7,66.3 L307.9,66.3 L308.2,66.3 L308.5,66.3 L308.8,66.4 L311.7,66.4" stroke="#000000"/>
<path d="M311.7,66.4 L346.0,66.4 L346.3,61.1 L346.6,56.0 L346.9,51.6 L347.1,48.0 L347.4,45.5 L347.7,44.3 L347.9,44.1 L348.0,44.1 L348.3,44.5 L348.6,45.1 L348.9,45.9 L349.1,46.9 L349.4,48.1 L349.7,49.3 L350.0,50.5 L350.3,51.7 L350.6,52.9 L350.9,54.0 L351.1,55.1 L351.4,56.1 L351.7,57.0 L352.0,57.9 L352.3,58.6 L352.6,59.4 L352.9,60.0 L353.2,60.6 L353.4,61.2 L353.7,61.7 L354.0,62.2 L354.3,62.6 L354.6,62.9 L354.9,63.3 L355.2,63.6 L355.4,63.9 L355.7,64.1 L356.0,64.4 L356.3,64.6 L356.6,64.7 L356.9,64.9 L357.2,65.1 L357.4,65.2" stroke="#00ffff"/>
<path d="M357.4,65.2 L357.7,60.0 L358.0,55.1 L358.3,50.7 L358.6,47.3 L358.9,44.8 L359.2,43.6 L359.3,43.5 L359.4,43.6 L359.7,43.9 L360.0,44.6 L360.3,45.5 L360.6,46.6 L360.9,47.7 L361.2,49.0 L361.5,50.2 L361.7,51.5 L362.0,52.7 L362.3,53.8 L362.6,54.9 L362.9,55.9 L363.2,56.9 L363.5,57.7 L363.7,58.5 L364.0,59.3 L364.3,59.9 L364.6,60.6 L364.9,61.1 L365.2,61.6 L365.5,62.1 L365.7,62.5 L366.0,62.9 L366.3,63.2 L366.6,63.6 L366.9,63.8 L367.2,64.1 L367.5,64.3 L367.7,64.5 L368.0,64.7 L368.3,64.9 L368.6,65.0 L368.9,65.2 L369.2,65.3 L369.5,65.4 L369.7,65.5 L370.0,65.6 L370.3,65.7 L370.6,65.8 L370.9,65.8 L371.2,65.9 L371.5,65.9 L371.8,66.0 L372.0,66.0 L372.3,66.1 L372.6,66.1 L372.9,66.1 L373.2,66.2 L373.5,66.2 L373.8,66.2 L374.0,66.2 L374.3,66.2 L374.6,66.3 L374.9,66.3 L375.2,66.3 L375.5,66.3 L375.8,66.3 L376.0,66.3 L376.3,66.3 L376.6,66.3 L376.9,66.3 L377.2,66.3 L377.5,66.4 L403.2,66.4" stroke="#6600ff"/>
<path d="M403.2,66.4 L437.6,66.4 L437.8,61.1 L438.1,56.0 L438.4,51.6 L438.7,48.0 L439.0,45.5 L439.3,44.3 L439.4,44.1 L439.6,44.1 L439.8,44.5 L440.1,45.1 L440.4,45.9 L440.7,46.9 L441.0,48.1 L441.3,49.3 L441.6,50.5 L441.8,51.7 L442.1,52.9 L442.4,54.0 L442.7,55.1 L443.0,56.1 L443.3,57.0 L443.6,57.9 L443.8,58.6 L444.1,59.4 L444.4,60.0 L444.7,60.6 L445.0,61.2 L445.3,61.7 L445.6,62.2 L445.9,62.6 L446.1,62.9 L446.4,63.3 L446.7,63.6 L447.0,63.9 L447.3,64.1 L447.6,64.4 L447.9,64.6 L448.1,64.7 L448.4,64.9 L448.7,65.1 L449.0,65.2" stroke="#007d00"/>
</g>
<text x="32" y="253.90" class="tk" text-anchor="end">1</text>
<text x="32" y="193.17" class="tk" text-anchor="end">2</text>
<text x="32" y="132.43" class="tk" text-anchor="end">3</text>
<text x="32" y="71.70" class="tk" text-anchor="end">4</text>
<text x="37.00" y="297.80" text-anchor="middle" class="tk">0</text>
<text x="128.56" y="297.80" text-anchor="middle" class="tk">32</text>
<text x="220.11" y="297.80" text-anchor="middle" class="tk">64</text>
<text x="311.67" y="297.80" text-anchor="middle" class="tk">96</text>
<text x="403.22" y="297.80" text-anchor="middle" class="tk">128</text>
<text x="243" y="27.60" text-anchor="middle" class="ti">RVS CR</text>
<text x="2.9" y="13.80" class="pl">A</text>
<g stroke="#000" stroke-width="1.70" fill="none">
<rect x="37.00" y="357.00" width="412.00" height="242.40"/>
<path d="M37.00,568.75H41.30M444.70,568.75H449.00"/>
<path d="M37.00,508.17H41.30M444.70,508.17H449.00"/>
<path d="M37.00,447.58H41.30M444.70,447.58H449.00"/>
<path d="M37.00,387.00H41.30M444.70,387.00H449.00"/>
</g>
<g stroke="#000" stroke-width="1.50" stroke-dasharray="5.7 6.2">
<line x1="82.78" y1="355.10" x2="82.78" y2="599.40"/>
<line x1="128.56" y1="355.10" x2="128.56" y2="599.40"/>
<line x1="174.33" y1="355.10" x2="174.33" y2="599.40"/>
<line x1="220.11" y1="355.10" x2="220.11" y2="599.40"/>
<line x1="265.89" y1="355.10" x2="265.89" y2="599.40"/>
<line x1="311.67" y1="355.10" x2="311.67" y2="599.40"/>
<line x1="357.44" y1="355.10" x2="357.44" y2="599.40"/>
<line x1="403.22" y1="355.10" x2="403.22" y2="599.40"/>
</g>
<g fill="none" stroke-width="3.00" stroke-linejoin="round" stroke-linecap="butt">
<path d="M37.0,568.8 L37.3,563.4 L37.6,558.4 L37.9,554.0 L38.1,550.4 L38.4,547.9 L38.7,546.6 L38.9,546.5 L39.0,546.5 L39.3,546.8 L39.6,547.4 L39.9,548.3 L40.1,549.3 L40.4,550.4 L40.7,551.6 L41.0,552.8 L41.3,554.1 L41.6,555.2 L41.9,556.4 L42.1,557.4 L42.4,558.4 L42.7,559.3 L43.0,560.2 L43.3,561.0 L43.6,561.7 L43.9,562.4 L44.2,563.0 L44.4,563.5 L44.7,564.1 L45.0,564.5 L45.3,564.9 L45.6,565.3 L45.9,565.6 L46.2,565.9 L46.4,566.2 L46.7,566.5 L47.0,566.7 L47.3,566.9 L47.6,567.1 L47.9,567.3 L48.2,567.4 L48.4,567.5 L48.7,567.7 L49.0,567.8 L49.3,567.9 L49.6,568.0 L49.9,568.0 L50.2,568.1 L50.4,568.2 L50.7,568.2 L51.0,568.3 L51.3,568.3 L51.6,568.4 L51.9,568.4 L52.2,568.4 L52.5,568.5 L52.7,568.5 L53.0,568.5 L53.3,568.6 L53.6,568.6 L53.9,568.6 L54.2,568.6 L54.5,568.6 L54.7,568.6 L55.0,568.6 L55.3,568.7 L55.6,568.7 L55.9,568.7 L56.2,568.7 L56.5,568.7 L56.7,568.7 L57.0,568.7 L82.8,568.7" stroke="#ff0000"/>
<path d="M82.8,568.7 L83.1,563.4 L83.3,558.4 L83.6,554.0 L83.9,550.4 L84.2,547.9 L84.5,546.6 L84.6,546.4 L84.8,546.5 L85.1,546.8 L85.4,547.4 L85.6,548.3 L85.9,549.3 L86.2,550.4 L86.5,551.6 L86.8,552.8 L87.1,554.1 L87.4,555.2 L87.6,556.4 L87.9,557.4 L88.2,558.4 L88.5,559.3 L88.8,560.2 L89.1,561.0 L89.4,561.7 L89.6,562.4 L89.9,563.0 L90.2,563.5 L90.5,564.1 L90.8,564.5 L91.1,564.9 L91.4,565.3 L91.6,565.6 L91.9,565.9 L92.2,566.2 L92.5,566.5 L92.8,566.7 L93.1,566.9 L93.4,567.1 L93.7,567.3 L93.9,567.4 L94.2,567.5 L94.5,567.7 L94.8,567.8 L95.1,567.9 L95.4,568.0 L95.7,568.0 L95.9,568.1 L96.2,568.2 L96.5,568.2 L96.8,568.3 L97.1,568.3 L97.4,568.4 L97.7,568.4 L97.9,568.4 L98.2,568.5 L98.5,568.5 L98.8,568.5 L99.1,568.6 L99.4,568.6 L99.7,568.6 L99.9,568.6 L100.2,568.6 L100.5,568.6 L100.8,568.6 L101.1,568.7 L101.4,568.7 L101.7,568.7 L101.9,568.7 L102.2,568.7 L102.5,568.7 L102.8,568.7 L128.6,568.7" stroke="#ff0000"/>
<path d="M128.6,568.7 L128.8,563.4 L129.1,558.4 L129.4,554.0 L129.7,550.4 L130.0,547.9 L130.3,546.6 L130.4,546.4 L130.6,546.5 L130.8,546.8 L131.1,547.4 L131.4,548.3 L131.7,549.3 L132.0,550.4 L132.3,551.6 L132.6,552.8 L132.8,554.1 L133.1,555.2 L133.4,556.4 L133.7,557.4 L134.0,558.4 L134.3,559.3 L134.6,560.2 L134.9,561.0 L135.1,561.7 L135.4,562.4 L135.7,563.0 L136.0,563.5 L136.3,564.1 L136.6,564.5 L136.9,564.9 L137.1,565.3 L137.4,565.6 L137.7,565.9 L138.0,566.2 L138.3,566.5 L138.6,566.7 L138.9,566.9 L139.1,567.1 L139.4,567.3 L139.7,567.4 L140.0,567.5 L140.3,567.7 L140.6,567.8 L140.9,567.9 L141.1,568.0 L141.4,568.0 L141.7,568.1 L142.0,568.2 L142.3,568.2 L142.6,568.3 L142.9,568.3 L143.1,568.4 L143.4,568.4 L143.7,568.4 L144.0,568.5 L144.3,568.5 L144.6,568.5 L144.9,568.6 L145.1,568.6 L145.4,568.6 L145.7,568.6 L146.0,568.6 L146.3,568.6 L146.6,568.6 L146.9,568.7 L147.2,568.7 L147.4,568.7 L147.7,568.7 L148.0,568.7 L148.3,568.7 L148.6,568.7 L174.3,568.7" stroke="#ff0000"/>
<path d="M174.3,568.7 L174.6,563.4 L174.9,558.4 L175.2,554.0 L175.5,550.4 L175.8,547.9 L176.1,546.6 L176.2,546.4 L176.3,546.5 L176.6,546.8 L176.9,547.4 L177.2,548.3 L177.5,549.3 L177.8,550.4 L178.1,551.6 L178.3,552.8 L178.6,554.1 L178.9,555.2 L179.2,556.4 L179.5,557.4 L179.8,558.4 L180.1,559.3 L180.3,560.2 L180.6,561.0 L180.9,561.7 L181.2,562.4 L181.5,563.0 L181.8,563.5 L182.1,564.1 L182.3,564.5 L182.6,564.9 L182.9,565.3 L183.2,565.6 L183.5,565.9 L183.8,566.2 L184.1,566.5 L184.3,566.7 L184.6,566.9 L184.9,567.1 L185.2,567.3 L185.5,567.4 L185.8,567.5 L186.1,567.7 L186.4,567.8 L186.6,567.9 L186.9,568.0 L187.2,568.0 L187.5,568.1 L187.8,568.2 L188.1,568.2 L188.4,568.3 L188.6,568.3 L188.9,568.4 L189.2,568.4 L189.5,568.4 L189.8,568.5 L190.1,568.5 L190.4,568.5 L190.6,568.6 L190.9,568.6 L191.2,568.6 L191.5,568.6 L191.8,568.6 L192.1,568.6 L192.4,568.6 L192.6,568.7 L192.9,568.7 L193.2,568.7 L193.5,568.7 L193.8,568.7 L194.1,568.7 L194.4,568.7 L220.1,568.7" stroke="#ff0000"/>
<path d="M220.1,568.7 L254.4,568.7 L254.7,563.4 L255.0,558.4 L255.3,554.0 L255.6,550.4 L255.9,547.9 L256.2,546.6 L256.3,546.4 L256.4,546.5 L256.7,546.8 L257.0,547.4 L257.3,548.3 L257.6,549.3 L257.9,550.4 L258.2,551.6 L258.5,552.8 L258.7,554.1 L259.0,555.2 L259.3,556.4 L259.6,557.4 L259.9,558.4 L260.2,559.3 L260.5,560.2 L260.7,561.0 L261.0,561.7 L261.3,562.4 L261.6,563.0 L261.9,563.5 L262.2,564.1 L262.5,564.5 L262.7,564.9 L263.0,565.3 L263.3,565.6 L263.6,565.9 L263.9,566.2 L264.2,566.5 L264.5,566.7 L264.7,566.9 L265.0,567.1 L265.3,567.3 L265.6,567.4 L265.9,567.5" stroke="#0000ff"/>
<path d="M265.9,567.5 L266.2,567.7 L266.5,567.8 L266.7,567.9 L267.0,568.0 L267.3,568.0 L267.6,568.1 L267.9,568.2 L268.2,568.2 L268.5,568.3 L268.8,568.3 L269.0,568.4 L269.3,568.4 L269.6,568.4 L269.9,568.5 L270.2,568.5 L270.5,568.5 L270.8,568.6 L271.0,568.6 L271.3,568.6 L271.6,568.6 L271.9,568.6 L272.2,568.6 L272.5,568.6 L272.8,568.7 L273.0,568.7 L273.3,568.7 L273.6,568.7 L273.9,568.7 L274.2,568.7 L274.5,568.7 L300.2,568.7 L300.5,563.4 L300.8,558.4 L301.1,554.0 L301.4,550.4 L301.7,547.9 L301.9,546.6 L302.1,546.4 L302.2,546.5 L302.5,546.8 L302.8,547.4 L303.1,548.3 L303.4,549.3 L303.7,550.4 L303.9,551.6 L304.2,552.8 L304.5,554.1 L304.8,555.2 L305.1,556.4 L305.4,557.4 L305.7,558.4 L305.9,559.3 L306.2,560.2 L306.5,561.0 L306.8,561.7 L307.1,562.4 L307.4,563.0 L307.7,563.5 L307.9,564.1 L308.2,564.5 L308.5,564.9 L308.8,565.3 L309.1,565.6 L309.4,565.9 L309.7,566.2 L310.0,566.5 L310.2,566.7 L310.5,566.9 L310.8,567.1 L311.1,567.3 L311.4,567.4 L311.7,567.5" stroke="#0000ff"/>
<path d="M311.7,567.5 L312.0,567.7 L312.2,567.8 L312.5,567.9 L312.8,568.0 L313.1,568.0 L313.4,568.1 L313.7,568.2 L314.0,568.2 L314.2,568.3 L314.5,568.3 L314.8,568.4 L315.1,568.4 L315.4,568.4 L315.7,568.5 L316.0,568.5 L316.2,568.5 L316.5,568.6 L316.8,568.6 L317.1,568.6 L317.4,568.6 L317.7,568.6 L318.0,568.6 L318.2,568.6 L318.5,568.7 L318.8,568.7 L319.1,568.7 L319.4,568.7 L319.7,568.7 L320.0,568.7 L320.2,568.7 L346.0,568.7 L346.3,563.4 L346.6,558.4 L346.9,554.0 L347.1,550.4 L347.4,547.9 L347.7,546.6 L347.9,546.4 L348.0,546.5 L348.3,546.8 L348.6,547.4 L348.9,548.3 L349.1,549.3 L349.4,550.4 L349.7,551.6 L350.0,552.8 L350.3,554.1 L350.6,555.2 L350.9,556.4 L351.1,557.4 L351.4,558.4 L351.7,559.3 L352.0,560.2 L352.3,561.0 L352.6,561.7 L352.9,562.4 L353.2,563.0 L353.4,563.5 L353.7,564.1 L354.0,564.5 L354.3,564.9 L354.6,565.3 L354.9,565.6 L355.2,565.9 L355.4,566.2 L355.7,566.5 L356.0,566.7 L356.3,566.9 L356.6,567.1 L356.9,567.3 L357.2,567.4 L357.4,567.5" stroke="#0000ff"/>
<path d="M357.4,567.5 L357.7,567.7 L358.0,567.8 L358.3,567.9 L358.6,568.0 L358.9,568.0 L359.2,568.1 L359.4,568.2 L359.7,568.2 L360.0,568.3 L360.3,568.3 L360.6,568.4 L360.9,568.4 L361.2,568.4 L361.5,568.5 L361.7,568.5 L362.0,568.5 L362.3,568.6 L362.6,568.6 L362.9,568.6 L363.2,568.6 L363.5,568.6 L363.7,568.6 L364.0,568.6 L364.3,568.7 L364.6,568.7 L364.9,568.7 L365.2,568.7 L365.5,568.7 L365.7,568.7 L366.0,568.7 L391.8,568.7 L392.1,563.4 L392.4,558.4 L392.6,554.0 L392.9,550.4 L393.2,547.9 L393.5,546.6 L393.6,546.4 L393.8,546.5 L394.1,546.8 L394.4,547.4 L394.6,548.3 L394.9,549.3 L395.2,550.4 L395.5,551.6 L395.8,552.8 L396.1,554.1 L396.4,555.2 L396.6,556.4 L396.9,557.4 L397.2,558.4 L397.5,559.3 L397.8,560.2 L398.1,561.0 L398.4,561.7 L398.6,562.4 L398.9,563.0 L399.2,563.5 L399.5,564.1 L399.8,564.5 L400.1,564.9 L400.4,565.3 L400.6,565.6 L400.9,565.9 L401.2,566.2 L401.5,566.5 L401.8,566.7 L402.1,566.9 L402.4,567.1 L402.6,567.3 L402.9,567.4 L403.2,567.5" stroke="#0000ff"/>
<path d="M403.2,567.5 L403.5,567.7 L403.8,567.8 L404.1,567.9 L404.4,568.0 L404.7,568.0 L404.9,568.1 L405.2,568.2 L405.5,568.2 L405.8,568.3 L406.1,568.3 L406.4,568.4 L406.7,568.4 L406.9,568.4 L407.2,568.5 L407.5,568.5 L407.8,568.5 L408.1,568.6 L408.4,568.6 L408.7,568.6 L408.9,568.6 L409.2,568.6 L409.5,568.6 L409.8,568.6 L410.1,568.7 L410.4,568.7 L410.7,568.7 L410.9,568.7 L411.2,568.7 L411.5,568.7 L411.8,568.7 L426.1,568.7 L426.4,563.4 L426.7,558.4 L427.0,554.0 L427.3,550.4 L427.5,547.9 L427.8,546.6 L428.0,546.4 L428.1,546.5 L428.4,546.8 L428.7,547.4 L429.0,548.3 L429.3,549.3 L429.5,550.4 L429.8,551.6 L430.1,552.8 L430.4,554.1 L430.7,555.2 L431.0,556.4 L431.3,557.4 L431.5,558.4 L431.8,559.3 L432.1,560.2 L432.4,561.0 L432.7,561.7 L433.0,562.4 L433.3,563.0 L433.5,563.5 L433.8,564.1 L434.1,564.5 L434.4,564.9 L434.7,565.3 L435.0,565.6 L435.3,565.9 L435.6,566.2 L435.8,566.5 L436.1,566.7 L436.4,566.9 L436.7,567.1 L437.0,567.3 L437.3,567.4 L437.6,567.5 L437.8,567.7 L438.1,567.8 L438.4,567.9 L438.7,568.0 L439.0,568.0 L439.3,568.1 L439.6,568.2 L439.8,568.2 L440.1,568.3 L440.4,568.3 L440.7,568.4 L441.0,568.4 L441.3,568.4 L441.6,568.5 L441.8,568.5 L442.1,568.5 L442.4,568.6 L442.7,568.6 L443.0,568.6 L443.3,568.6 L443.6,568.6 L443.8,568.6 L444.1,568.6 L444.4,568.7 L444.7,568.7 L445.0,568.7 L445.3,568.7 L445.6,568.7 L445.9,568.7 L446.1,568.7 L449.0,568.7" stroke="#000000"/>
<path d="M37.0,508.2 L48.4,508.2 L48.7,502.8 L49.0,497.8 L49.3,493.4 L49.6,489.8 L49.9,487.3 L50.2,486.0 L50.3,485.9 L50.4,485.9 L50.7,486.2 L51.0,486.8 L51.3,487.7 L51.6,488.7 L51.9,489.8 L52.2,491.0 L52.5,492.3 L52.7,493.5 L53.0,494.6 L53.3,495.8 L53.6,496.8 L53.9,497.8 L54.2,498.8 L54.5,499.6 L54.7,500.4 L55.0,501.1 L55.3,501.8 L55.6,502.4 L55.9,503.0 L56.2,503.5 L56.5,503.9 L56.7,504.3 L57.0,504.7 L57.3,505.1 L57.6,505.4 L57.9,505.6 L58.2,505.9 L58.5,506.1 L58.7,506.3 L59.0,506.5 L59.3,506.7 L59.6,506.8 L59.9,507.0 L60.2,507.1 L60.5,507.2 L60.7,507.3 L61.0,507.4 L61.3,507.5 L61.6,507.5 L61.9,507.6 L62.2,507.7 L62.5,507.7 L62.8,507.8 L63.0,507.8 L63.3,507.8 L63.6,507.9 L63.9,507.9 L64.2,507.9 L64.5,507.9 L64.8,508.0 L65.0,508.0 L65.3,508.0 L65.6,508.0 L65.9,508.0 L66.2,508.1 L66.5,508.1 L66.8,508.1 L67.0,508.1 L67.3,508.1 L67.6,508.1 L67.9,508.1 L68.2,508.1 L68.5,508.1 L82.8,508.2" stroke="#ff0000"/>
<path d="M82.8,508.2 L94.2,508.2 L94.5,502.8 L94.8,497.8 L95.1,493.4 L95.4,489.8 L95.7,487.3 L95.9,486.0 L96.1,485.9 L96.2,485.9 L96.5,486.2 L96.8,486.8 L97.1,487.7 L97.4,488.7 L97.7,489.8 L97.9,491.0 L98.2,492.3 L98.5,493.5 L98.8,494.6 L99.1,495.8 L99.4,496.8 L99.7,497.8 L99.9,498.8 L100.2,499.6 L100.5,500.4 L100.8,501.1 L101.1,501.8 L101.4,502.4 L101.7,503.0 L101.9,503.5 L102.2,503.9 L102.5,504.3 L102.8,504.7 L103.1,505.1 L103.4,505.4 L103.7,505.6 L103.9,505.9 L104.2,506.1 L104.5,506.3 L104.8,506.5 L105.1,506.7 L105.4,506.8 L105.7,507.0 L106.0,507.1 L106.2,507.2 L106.5,507.3 L106.8,507.4 L107.1,507.5 L107.4,507.5 L107.7,507.6 L108.0,507.7 L108.2,507.7 L108.5,507.8 L108.8,507.8 L109.1,507.8 L109.4,507.9 L109.7,507.9 L110.0,507.9 L110.2,507.9 L110.5,508.0 L110.8,508.0 L111.1,508.0 L111.4,508.0 L111.7,508.0 L112.0,508.1 L112.2,508.1 L112.5,508.1 L112.8,508.1 L113.1,508.1 L113.4,508.1 L113.7,508.1 L114.0,508.1 L114.2,508.1 L128.6,508.2" stroke="#ff0000"/>
<path d="M128.6,508.2 L140.0,508.2 L140.3,502.8 L140.6,497.8 L140.9,493.4 L141.1,489.8 L141.4,487.3 L141.7,486.0 L141.9,485.9 L142.0,485.9 L142.3,486.2 L142.6,486.8 L142.9,487.7 L143.1,488.7 L143.4,489.8 L143.7,491.0 L144.0,492.3 L144.3,493.5 L144.6,494.6 L144.9,495.8 L145.1,496.8 L145.4,497.8 L145.7,498.8 L146.0,499.6 L146.3,500.4 L146.6,501.1 L146.9,501.8 L147.2,502.4 L147.4,503.0 L147.7,503.5 L148.0,503.9 L148.3,504.3 L148.6,504.7 L148.9,505.1 L149.2,505.4 L149.4,505.6 L149.7,505.9 L150.0,506.1 L150.3,506.3 L150.6,506.5 L150.9,506.7 L151.2,506.8 L151.4,507.0 L151.7,507.1 L152.0,507.2 L152.3,507.3 L152.6,507.4 L152.9,507.5 L153.2,507.5 L153.4,507.6 L153.7,507.7 L154.0,507.7 L154.3,507.8 L154.6,507.8 L154.9,507.8 L155.2,507.9 L155.4,507.9 L155.7,507.9 L156.0,507.9 L156.3,508.0 L156.6,508.0 L156.9,508.0 L157.2,508.0 L157.5,508.0 L157.7,508.1 L158.0,508.1 L158.3,508.1 L158.6,508.1 L158.9,508.1 L159.2,508.1 L159.5,508.1 L159.7,508.1 L160.0,508.1 L174.3,508.2" stroke="#ff0000"/>
<path d="M174.3,508.2 L185.8,508.2 L186.1,502.8 L186.4,497.8 L186.6,493.4 L186.9,489.8 L187.2,487.3 L187.5,486.0 L187.6,485.9 L187.8,485.9 L188.1,486.2 L188.4,486.8 L188.6,487.7 L188.9,488.7 L189.2,489.8 L189.5,491.0 L189.8,492.3 L190.1,493.5 L190.4,494.6 L190.6,495.8 L190.9,496.8 L191.2,497.8 L191.5,498.8 L191.8,499.6 L192.1,500.4 L192.4,501.1 L192.6,501.8 L192.9,502.4 L193.2,503.0 L193.5,503.5 L193.8,503.9 L194.1,504.3 L194.4,504.7 L194.6,505.1 L194.9,505.4 L195.2,505.6 L195.5,505.9 L195.8,506.1 L196.1,506.3 L196.4,506.5 L196.6,506.7 L196.9,506.8 L197.2,507.0 L197.5,507.1 L197.8,507.2 L198.1,507.3 L198.4,507.4 L198.7,507.5 L198.9,507.5 L199.2,507.6 L199.5,507.7 L199.8,507.7 L200.1,507.8 L200.4,507.8 L200.7,507.8 L200.9,507.9 L201.2,507.9 L201.5,507.9 L201.8,507.9 L202.1,508.0 L202.4,508.0 L202.7,508.0 L202.9,508.0 L203.2,508.0 L203.5,508.1 L203.8,508.1 L204.1,508.1 L204.4,508.1 L204.7,508.1 L204.9,508.1 L205.2,508.1 L205.5,508.1 L205.8,508.1 L220.1,508.2" stroke="#ff0000"/>
<path d="M220.1,508.2 L220.4,502.8 L220.7,497.8 L221.0,493.4 L221.3,489.8 L221.5,487.3 L221.8,486.0 L222.0,485.9 L222.1,485.9 L222.4,486.2 L222.7,486.8 L223.0,487.7 L223.3,488.7 L223.5,489.8 L223.8,491.0 L224.1,492.3 L224.4,493.5 L224.7,494.6 L225.0,495.8 L225.3,496.8 L225.5,497.8 L225.8,498.8 L226.1,499.6 L226.4,500.4 L226.7,501.1 L227.0,501.8 L227.3,502.4 L227.5,503.0 L227.8,503.5 L228.1,503.9 L228.4,504.3 L228.7,504.7 L229.0,505.1 L229.3,505.4 L229.6,505.6 L229.8,505.9 L230.1,506.1 L230.4,506.3 L230.7,506.5 L231.0,506.7 L231.3,506.8 L231.6,507.0 L231.8,507.1 L232.1,507.2 L232.4,507.3 L232.7,507.4 L233.0,507.5 L233.3,507.5 L233.6,507.6 L233.8,507.7 L234.1,507.7 L234.4,507.8 L234.7,507.8 L235.0,507.8 L235.3,507.9 L235.6,507.9 L235.8,507.9 L236.1,507.9 L236.4,508.0 L236.7,508.0 L237.0,508.0 L237.3,508.0 L237.6,508.0 L237.9,508.1 L238.1,508.1 L238.4,508.1 L238.7,508.1 L239.0,508.1 L239.3,508.1 L239.6,508.1 L239.9,508.1 L240.1,508.1 L265.9,508.2" stroke="#0000ff"/>
<path d="M265.9,508.2 L266.2,502.8 L266.5,497.8 L266.7,493.4 L267.0,489.8 L267.3,487.3 L267.6,486.0 L267.7,485.9 L267.9,485.9 L268.2,486.2 L268.5,486.8 L268.8,487.7 L269.0,488.7 L269.3,489.8 L269.6,491.0 L269.9,492.3 L270.2,493.5 L270.5,494.6 L270.8,495.8 L271.0,496.8 L271.3,497.8 L271.6,498.8 L271.9,499.6 L272.2,500.4 L272.5,501.1 L272.8,501.8 L273.0,502.4 L273.3,503.0 L273.6,503.5 L273.9,503.9 L274.2,504.3 L274.5,504.7 L274.8,505.1 L275.0,505.4 L275.3,505.6 L275.6,505.9 L275.9,506.1 L276.2,506.3 L276.5,506.5 L276.8,506.7 L277.0,506.8 L277.3,507.0 L277.6,507.1 L277.9,507.2 L278.2,507.3 L278.5,507.4 L278.8,507.5 L279.0,507.5 L279.3,507.6 L279.6,507.7 L279.9,507.7 L280.2,507.8 L280.5,507.8 L280.8,507.8 L281.1,507.9 L281.3,507.9 L281.6,507.9 L281.9,507.9 L282.2,508.0 L282.5,508.0 L282.8,508.0 L283.1,508.0 L283.3,508.0 L283.6,508.1 L283.9,508.1 L284.2,508.1 L284.5,508.1 L284.8,508.1 L285.1,508.1 L285.3,508.1 L285.6,508.1 L285.9,508.1 L311.7,508.2" stroke="#0000ff"/>
<path d="M311.7,508.2 L312.0,502.8 L312.2,497.8 L312.5,493.4 L312.8,489.8 L313.1,487.3 L313.4,486.0 L313.5,485.9 L313.7,485.9 L314.0,486.2 L314.2,486.8 L314.5,487.7 L314.8,488.7 L315.1,489.8 L315.4,491.0 L315.7,492.3 L316.0,493.5 L316.2,494.6 L316.5,495.8 L316.8,496.8 L317.1,497.8 L317.4,498.8 L317.7,499.6 L318.0,500.4 L318.2,501.1 L318.5,501.8 L318.8,502.4 L319.1,503.0 L319.4,503.5 L319.7,503.9 L320.0,504.3 L320.2,504.7 L320.5,505.1 L320.8,505.4 L321.1,505.6 L321.4,505.9 L321.7,506.1 L322.0,506.3 L322.3,506.5 L322.5,506.7 L322.8,506.8 L323.1,507.0 L323.4,507.1 L323.7,507.2 L324.0,507.3 L324.3,507.4 L324.5,507.5 L324.8,507.5 L325.1,507.6 L325.4,507.7 L325.7,507.7 L326.0,507.8 L326.3,507.8 L326.5,507.8 L326.8,507.9 L327.1,507.9 L327.4,507.9 L327.7,507.9 L328.0,508.0 L328.3,508.0 L328.5,508.0 L328.8,508.0 L329.1,508.0 L329.4,508.1 L329.7,508.1 L330.0,508.1 L330.3,508.1 L330.5,508.1 L330.8,508.1 L331.1,508.1 L331.4,508.1 L331.7,508.1 L357.4,508.2" stroke="#0000ff"/>
<path d="M357.4,508.2 L357.7,502.8 L358.0,497.8 L358.3,493.4 L358.6,489.8 L358.9,487.3 L359.2,486.0 L359.3,485.9 L359.4,485.9 L359.7,486.2 L360.0,486.8 L360.3,487.7 L360.6,488.7 L360.9,489.8 L361.2,491.0 L361.5,492.3 L361.7,493.5 L362.0,494.6 L362.3,495.8 L362.6,496.8 L362.9,497.8 L363.2,498.8 L363.5,499.6 L363.7,500.4 L364.0,501.1 L364.3,501.8 L364.6,502.4 L364.9,503.0 L365.2,503.5 L365.5,503.9 L365.7,504.3 L366.0,504.7 L366.3,505.1 L366.6,505.4 L366.9,505.6 L367.2,505.9 L367.5,506.1 L367.7,506.3 L368.0,506.5 L368.3,506.7 L368.6,506.8 L368.9,507.0 L369.2,507.1 L369.5,507.2 L369.7,507.3 L370.0,507.4 L370.3,507.5 L370.6,507.5 L370.9,507.6 L371.2,507.7 L371.5,507.7 L371.8,507.8 L372.0,507.8 L372.3,507.8 L372.6,507.9 L372.9,507.9 L373.2,507.9 L373.5,507.9 L373.8,508.0 L374.0,508.0 L374.3,508.0 L374.6,508.0 L374.9,508.0 L375.2,508.1 L375.5,508.1 L375.8,508.1 L376.0,508.1 L376.3,508.1 L376.6,508.1 L376.9,508.1 L377.2,508.1 L377.5,508.1 L403.2,508.2" stroke="#0000ff"/>
<path d="M403.2,508.2 L437.6,508.2 L437.8,502.8 L438.1,497.8 L438.4,493.4 L438.7,489.8 L439.0,487.3 L439.3,486.0 L439.4,485.9 L439.6,485.9 L439.8,486.2 L440.1,486.8 L440.4,487.7 L440.7,488.7 L441.0,489.8 L441.3,491.0 L441.6,492.3 L441.8,493.5 L442.1,494.6 L442.4,495.8 L442.7,496.8 L443.0,497.8 L443.3,498.8 L443.6,499.6 L443.8,500.4 L444.1,501.1 L444.4,501.8 L444.7,502.4 L445.0,503.0 L445.3,503.5 L445.6,503.9 L445.9,504.3 L446.1,504.7 L446.4,505.1 L446.7,505.4 L447.0,505.6 L447.3,505.9 L447.6,506.1 L447.9,506.3 L448.1,506.5 L448.4,506.7 L448.7,506.8 L449.0,507.0" stroke="#000000"/>
<path d="M37.0,447.6 L59.9,447.6 L60.2,442.2 L60.5,437.2 L60.7,432.8 L61.0,429.2 L61.3,426.7 L61.6,425.4 L61.7,425.3 L61.9,425.3 L62.2,425.6 L62.5,426.2 L62.8,427.1 L63.0,428.1 L63.3,429.2 L63.6,430.4 L63.9,431.7 L64.2,432.9 L64.5,434.1 L64.8,435.2 L65.0,436.3 L65.3,437.3 L65.6,438.2 L65.9,439.0 L66.2,439.8 L66.5,440.6 L66.8,441.2 L67.0,441.8 L67.3,442.4 L67.6,442.9 L67.9,443.3 L68.2,443.8 L68.5,444.1 L68.8,444.5 L69.0,444.8 L69.3,445.1 L69.6,445.3 L69.9,445.5 L70.2,445.7 L70.5,445.9 L70.8,446.1 L71.0,446.2 L71.3,446.4 L71.6,446.5 L71.9,446.6 L72.2,446.7 L72.5,446.8 L72.8,446.9 L73.1,446.9 L73.3,447.0 L73.6,447.1 L73.9,447.1 L74.2,447.2 L74.5,447.2 L74.8,447.2 L75.1,447.3 L75.3,447.3 L75.6,447.3 L75.9,447.4 L76.2,447.4 L76.5,447.4 L76.8,447.4 L77.1,447.4 L77.3,447.5 L77.6,447.5 L77.9,447.5 L78.2,447.5 L78.5,447.5 L78.8,447.5 L79.1,447.5 L79.3,447.5 L79.6,447.5 L79.9,447.5 L82.8,447.6" stroke="#ff0000"/>
<path d="M82.8,447.6 L105.7,447.6 L106.0,442.2 L106.2,437.2 L106.5,432.8 L106.8,429.2 L107.1,426.7 L107.4,425.4 L107.5,425.3 L107.7,425.3 L108.0,425.6 L108.2,426.2 L108.5,427.1 L108.8,428.1 L109.1,429.2 L109.4,430.4 L109.7,431.7 L110.0,432.9 L110.2,434.1 L110.5,435.2 L110.8,436.3 L111.1,437.3 L111.4,438.2 L111.7,439.0 L112.0,439.8 L112.2,440.6 L112.5,441.2 L112.8,441.8 L113.1,442.4 L113.4,442.9 L113.7,443.3 L114.0,443.8 L114.2,444.1 L114.5,444.5 L114.8,444.8 L115.1,445.1 L115.4,445.3 L115.7,445.5 L116.0,445.7 L116.3,445.9 L116.5,446.1 L116.8,446.2 L117.1,446.4 L117.4,446.5 L117.7,446.6 L118.0,446.7 L118.3,446.8 L118.5,446.9 L118.8,446.9 L119.1,447.0 L119.4,447.1 L119.7,447.1 L120.0,447.2 L120.3,447.2 L120.5,447.2 L120.8,447.3 L121.1,447.3 L121.4,447.3 L121.7,447.4 L122.0,447.4 L122.3,447.4 L122.5,447.4 L122.8,447.4 L123.1,447.5 L123.4,447.5 L123.7,447.5 L124.0,447.5 L124.3,447.5 L124.6,447.5 L124.8,447.5 L125.1,447.5 L125.4,447.5 L125.7,447.5 L128.6,447.6" stroke="#ff0000"/>
<path d="M128.6,447.6 L151.4,447.6 L151.7,442.2 L152.0,437.2 L152.3,432.8 L152.6,429.2 L152.9,426.7 L153.2,425.4 L153.3,425.3 L153.4,425.3 L153.7,425.6 L154.0,426.2 L154.3,427.1 L154.6,428.1 L154.9,429.2 L155.2,430.4 L155.4,431.7 L155.7,432.9 L156.0,434.1 L156.3,435.2 L156.6,436.3 L156.9,437.3 L157.2,438.2 L157.5,439.0 L157.7,439.8 L158.0,440.6 L158.3,441.2 L158.6,441.8 L158.9,442.4 L159.2,442.9 L159.5,443.3 L159.7,443.8 L160.0,444.1 L160.3,444.5 L160.6,444.8 L160.9,445.1 L161.2,445.3 L161.5,445.5 L161.7,445.7 L162.0,445.9 L162.3,446.1 L162.6,446.2 L162.9,446.4 L163.2,446.5 L163.5,446.6 L163.7,446.7 L164.0,446.8 L164.3,446.9 L164.6,446.9 L164.9,447.0 L165.2,447.1 L165.5,447.1 L165.8,447.2 L166.0,447.2 L166.3,447.2 L166.6,447.3 L166.9,447.3 L167.2,447.3 L167.5,447.4 L167.8,447.4 L168.0,447.4 L168.3,447.4 L168.6,447.4 L168.9,447.5 L169.2,447.5 L169.5,447.5 L169.8,447.5 L170.0,447.5 L170.3,447.5 L170.6,447.5 L170.9,447.5 L171.2,447.5 L171.5,447.5 L174.3,447.6" stroke="#ff0000"/>
<path d="M174.3,447.6 L197.2,447.6 L197.5,442.2 L197.8,437.2 L198.1,432.8 L198.4,429.2 L198.7,426.7 L198.9,425.4 L199.1,425.3 L199.2,425.3 L199.5,425.6 L199.8,426.2 L200.1,427.1 L200.4,428.1 L200.7,429.2 L200.9,430.4 L201.2,431.7 L201.5,432.9 L201.8,434.1 L202.1,435.2 L202.4,436.3 L202.7,437.3 L202.9,438.2 L203.2,439.0 L203.5,439.8 L203.8,440.6 L204.1,441.2 L204.4,441.8 L204.7,442.4 L204.9,442.9 L205.2,443.3 L205.5,443.8 L205.8,444.1 L206.1,444.5 L206.4,444.8 L206.7,445.1 L206.9,445.3 L207.2,445.5 L207.5,445.7 L207.8,445.9 L208.1,446.1 L208.4,446.2 L208.7,446.4 L209.0,446.5 L209.2,446.6 L209.5,446.7 L209.8,446.8 L210.1,446.9 L210.4,446.9 L210.7,447.0 L211.0,447.1 L211.2,447.1 L211.5,447.2 L211.8,447.2 L212.1,447.2 L212.4,447.3 L212.7,447.3 L213.0,447.3 L213.2,447.4 L213.5,447.4 L213.8,447.4 L214.1,447.4 L214.4,447.4 L214.7,447.5 L215.0,447.5 L215.2,447.5 L215.5,447.5 L215.8,447.5 L216.1,447.5 L216.4,447.5 L216.7,447.5 L217.0,447.5 L217.2,447.5 L220.1,447.6" stroke="#ff0000"/>
<path d="M220.1,447.6 L243.0,447.6 L243.3,442.2 L243.6,437.2 L243.9,432.8 L244.1,429.2 L244.4,426.7 L244.7,425.4 L244.9,425.3 L245.0,425.3 L245.3,425.6 L245.6,426.2 L245.9,427.1 L246.1,428.1 L246.4,429.2 L246.7,430.4 L247.0,431.7 L247.3,432.9 L247.6,434.1 L247.9,435.2 L248.1,436.3 L248.4,437.3 L248.7,438.2 L249.0,439.0 L249.3,439.8 L249.6,440.6 L249.9,441.2 L250.2,441.8 L250.4,442.4 L250.7,442.9 L251.0,443.3 L251.3,443.8 L251.6,444.1 L251.9,444.5 L252.2,444.8 L252.4,445.1 L252.7,445.3 L253.0,445.5 L253.3,445.7 L253.6,445.9 L253.9,446.1 L254.2,446.2 L254.4,446.4 L254.7,446.5 L255.0,446.6 L255.3,446.7 L255.6,446.8 L255.9,446.9 L256.2,446.9 L256.4,447.0 L256.7,447.1 L257.0,447.1 L257.3,447.2 L257.6,447.2 L257.9,447.2 L258.2,447.3 L258.5,447.3 L258.7,447.3 L259.0,447.4 L259.3,447.4 L259.6,447.4 L259.9,447.4 L260.2,447.4 L260.5,447.5 L260.7,447.5 L261.0,447.5 L261.3,447.5 L261.6,447.5 L261.9,447.5 L262.2,447.5 L262.5,447.5 L262.7,447.5 L263.0,447.5 L265.9,447.6" stroke="#0000ff"/>
<path d="M265.9,447.6 L288.8,447.6 L289.1,442.2 L289.4,437.2 L289.6,432.8 L289.9,429.2 L290.2,426.7 L290.5,425.4 L290.6,425.3 L290.8,425.3 L291.1,425.6 L291.4,426.2 L291.6,427.1 L291.9,428.1 L292.2,429.2 L292.5,430.4 L292.8,431.7 L293.1,432.9 L293.4,434.1 L293.6,435.2 L293.9,436.3 L294.2,437.3 L294.5,438.2 L294.8,439.0 L295.1,439.8 L295.4,440.6 L295.6,441.2 L295.9,441.8 L296.2,442.4 L296.5,442.9 L296.8,443.3 L297.1,443.8 L297.4,444.1 L297.6,444.5 L297.9,444.8 L298.2,445.1 L298.5,445.3 L298.8,445.5 L299.1,445.7 L299.4,445.9 L299.6,446.1 L299.9,446.2 L300.2,446.4 L300.5,446.5 L300.8,446.6 L301.1,446.7 L301.4,446.8 L301.7,446.9 L301.9,446.9 L302.2,447.0 L302.5,447.1 L302.8,447.1 L303.1,447.2 L303.4,447.2 L303.7,447.2 L303.9,447.3 L304.2,447.3 L304.5,447.3 L304.8,447.4 L305.1,447.4 L305.4,447.4 L305.7,447.4 L305.9,447.4 L306.2,447.5 L306.5,447.5 L306.8,447.5 L307.1,447.5 L307.4,447.5 L307.7,447.5 L307.9,447.5 L308.2,447.5 L308.5,447.5 L308.8,447.5 L311.7,447.6" stroke="#0000ff"/>
<path d="M311.7,447.6 L334.6,447.6 L334.8,442.2 L335.1,437.2 L335.4,432.8 L335.7,429.2 L336.0,426.7 L336.3,425.4 L336.4,425.3 L336.6,425.3 L336.8,425.6 L337.1,426.2 L337.4,427.1 L337.7,428.1 L338.0,429.2 L338.3,430.4 L338.6,431.7 L338.8,432.9 L339.1,434.1 L339.4,435.2 L339.7,436.3 L340.0,437.3 L340.3,438.2 L340.6,439.0 L340.9,439.8 L341.1,440.6 L341.4,441.2 L341.7,441.8 L342.0,442.4 L342.3,442.9 L342.6,443.3 L342.9,443.8 L343.1,444.1 L343.4,444.5 L343.7,444.8 L344.0,445.1 L344.3,445.3 L344.6,445.5 L344.9,445.7 L345.1,445.9 L345.4,446.1 L345.7,446.2 L346.0,446.4 L346.3,446.5 L346.6,446.6 L346.9,446.7 L347.1,446.8 L347.4,446.9 L347.7,446.9 L348.0,447.0 L348.3,447.1 L348.6,447.1 L348.9,447.2 L349.1,447.2 L349.4,447.2 L349.7,447.3 L350.0,447.3 L350.3,447.3 L350.6,447.4 L350.9,447.4 L351.1,447.4 L351.4,447.4 L351.7,447.4 L352.0,447.5 L352.3,447.5 L352.6,447.5 L352.9,447.5 L353.2,447.5 L353.4,447.5 L353.7,447.5 L354.0,447.5 L354.3,447.5 L354.6,447.5 L357.4,447.6" stroke="#0000ff"/>
<path d="M357.4,447.6 L380.3,447.6 L380.6,442.2 L380.9,437.2 L381.2,432.8 L381.5,429.2 L381.8,426.7 L382.0,425.4 L382.2,425.3 L382.3,425.3 L382.6,425.6 L382.9,426.2 L383.2,427.1 L383.5,428.1 L383.8,429.2 L384.1,430.4 L384.3,431.7 L384.6,432.9 L384.9,434.1 L385.2,435.2 L385.5,436.3 L385.8,437.3 L386.1,438.2 L386.3,439.0 L386.6,439.8 L386.9,440.6 L387.2,441.2 L387.5,441.8 L387.8,442.4 L388.1,442.9 L388.3,443.3 L388.6,443.8 L388.9,444.1 L389.2,444.5 L389.5,444.8 L389.8,445.1 L390.1,445.3 L390.3,445.5 L390.6,445.7 L390.9,445.9 L391.2,446.1 L391.5,446.2 L391.8,446.4 L392.1,446.5 L392.4,446.6 L392.6,446.7 L392.9,446.8 L393.2,446.9 L393.5,446.9 L393.8,447.0 L394.1,447.1 L394.4,447.1 L394.6,447.2 L394.9,447.2 L395.2,447.2 L395.5,447.3 L395.8,447.3 L396.1,447.3 L396.4,447.4 L396.6,447.4 L396.9,447.4 L397.2,447.4 L397.5,447.4 L397.8,447.5 L398.1,447.5 L398.4,447.5 L398.6,447.5 L398.9,447.5 L399.2,447.5 L399.5,447.5 L399.8,447.5 L400.1,447.5 L400.4,447.5 L403.2,447.6" stroke="#0000ff"/>
<path d="M403.2,447.6 L414.7,447.6 L415.0,442.2 L415.2,437.2 L415.5,432.8 L415.8,429.2 L416.1,426.7 L416.4,425.4 L416.5,425.3 L416.7,425.3 L417.0,425.6 L417.2,426.2 L417.5,427.1 L417.8,428.1 L418.1,429.2 L418.4,430.4 L418.7,431.7 L419.0,432.9 L419.2,434.1 L419.5,435.2 L419.8,436.3 L420.1,437.3 L420.4,438.2 L420.7,439.0 L421.0,439.8 L421.2,440.6 L421.5,441.2 L421.8,441.8 L422.1,442.4 L422.4,442.9 L422.7,443.3 L423.0,443.8 L423.2,444.1 L423.5,444.5 L423.8,444.8 L424.1,445.1 L424.4,445.3 L424.7,445.5 L425.0,445.7 L425.3,445.9 L425.5,446.1 L425.8,446.2 L426.1,446.4 L426.4,446.5 L426.7,446.6 L427.0,446.7 L427.3,446.8 L427.5,446.9 L427.8,446.9 L428.1,447.0 L428.4,447.1 L428.7,447.1 L429.0,447.2 L429.3,447.2 L429.5,447.2 L429.8,447.3 L430.1,447.3 L430.4,447.3 L430.7,447.4 L431.0,447.4 L431.3,447.4 L431.5,447.4 L431.8,447.4 L432.1,447.5 L432.4,447.5 L432.7,447.5 L433.0,447.5 L433.3,447.5 L433.5,447.5 L433.8,447.5 L434.1,447.5 L434.4,447.5 L434.7,447.5 L449.0,447.6" stroke="#000000"/>
<path d="M37.0,387.0 L71.3,387.0 L71.6,381.7 L71.9,376.6 L72.2,372.2 L72.5,368.6 L72.8,366.1 L73.0,364.9 L73.2,364.7 L73.3,364.7 L73.6,365.1 L73.9,365.7 L74.2,366.5 L74.5,367.5 L74.8,368.7 L75.1,369.9 L75.3,371.1 L75.6,372.3 L75.9,373.5 L76.2,374.6 L76.5,375.7 L76.8,376.7 L77.1,377.6 L77.3,378.5 L77.6,379.2 L77.9,380.0 L78.2,380.6 L78.5,381.2 L78.8,381.8 L79.1,382.3 L79.3,382.8 L79.6,383.2 L79.9,383.5 L80.2,383.9 L80.5,384.2 L80.8,384.5 L81.1,384.7 L81.3,385.0 L81.6,385.2 L81.9,385.3 L82.2,385.5 L82.5,385.7 L82.8,385.8" stroke="#ff0000"/>
<path d="M82.8,385.8 L83.1,385.9 L83.3,386.0 L83.6,386.1 L83.9,386.2 L84.2,386.3 L84.5,386.4 L84.8,386.4 L85.1,386.5 L85.4,386.5 L85.6,386.6 L85.9,386.6 L86.2,386.7 L86.5,386.7 L86.8,386.7 L87.1,386.8 L87.4,386.8 L87.6,386.8 L87.9,386.8 L88.2,386.8 L88.5,386.9 L88.8,386.9 L89.1,386.9 L89.4,386.9 L89.6,386.9 L89.9,386.9 L90.2,386.9 L90.5,386.9 L90.8,386.9 L91.1,386.9 L91.4,387.0 L117.1,387.0 L117.4,381.7 L117.7,376.6 L118.0,372.2 L118.3,368.6 L118.5,366.1 L118.8,364.9 L119.0,364.7 L119.1,364.7 L119.4,365.1 L119.7,365.7 L120.0,366.5 L120.3,367.5 L120.5,368.7 L120.8,369.9 L121.1,371.1 L121.4,372.3 L121.7,373.5 L122.0,374.6 L122.3,375.7 L122.5,376.7 L122.8,377.6 L123.1,378.5 L123.4,379.2 L123.7,380.0 L124.0,380.6 L124.3,381.2 L124.6,381.8 L124.8,382.3 L125.1,382.8 L125.4,383.2 L125.7,383.5 L126.0,383.9 L126.3,384.2 L126.6,384.5 L126.8,384.7 L127.1,385.0 L127.4,385.2 L127.7,385.3 L128.0,385.5 L128.3,385.7 L128.6,385.8" stroke="#ff0000"/>
<path d="M128.6,385.8 L128.8,385.9 L129.1,386.0 L129.4,386.1 L129.7,386.2 L130.0,386.3 L130.3,386.4 L130.6,386.4 L130.8,386.5 L131.1,386.5 L131.4,386.6 L131.7,386.6 L132.0,386.7 L132.3,386.7 L132.6,386.7 L132.8,386.8 L133.1,386.8 L133.4,386.8 L133.7,386.8 L134.0,386.8 L134.3,386.9 L134.6,386.9 L134.9,386.9 L135.1,386.9 L135.4,386.9 L135.7,386.9 L136.0,386.9 L136.3,386.9 L136.6,386.9 L136.9,386.9 L137.1,387.0 L162.9,387.0 L163.2,381.7 L163.5,376.6 L163.7,372.2 L164.0,368.6 L164.3,366.1 L164.6,364.9 L164.7,364.7 L164.9,364.7 L165.2,365.1 L165.5,365.7 L165.8,366.5 L166.0,367.5 L166.3,368.7 L166.6,369.9 L166.9,371.1 L167.2,372.3 L167.5,373.5 L167.8,374.6 L168.0,375.7 L168.3,376.7 L168.6,377.6 L168.9,378.5 L169.2,379.2 L169.5,380.0 L169.8,380.6 L170.0,381.2 L170.3,381.8 L170.6,382.3 L170.9,382.8 L171.2,383.2 L171.5,383.5 L171.8,383.9 L172.0,384.2 L172.3,384.5 L172.6,384.7 L172.9,385.0 L173.2,385.2 L173.5,385.3 L173.8,385.5 L174.0,385.7 L174.3,385.8" stroke="#ff0000"/>
<path d="M174.3,385.8 L174.6,385.9 L174.9,386.0 L175.2,386.1 L175.5,386.2 L175.8,386.3 L176.1,386.4 L176.3,386.4 L176.6,386.5 L176.9,386.5 L177.2,386.6 L177.5,386.6 L177.8,386.7 L178.1,386.7 L178.3,386.7 L178.6,386.8 L178.9,386.8 L179.2,386.8 L179.5,386.8 L179.8,386.8 L180.1,386.9 L180.3,386.9 L180.6,386.9 L180.9,386.9 L181.2,386.9 L181.5,386.9 L181.8,386.9 L182.1,386.9 L182.3,386.9 L182.6,386.9 L182.9,387.0 L208.7,387.0 L209.0,381.7 L209.2,376.6 L209.5,372.2 L209.8,368.6 L210.1,366.1 L210.4,364.9 L210.5,364.7 L210.7,364.7 L211.0,365.1 L211.2,365.7 L211.5,366.5 L211.8,367.5 L212.1,368.7 L212.4,369.9 L212.7,371.1 L213.0,372.3 L213.2,373.5 L213.5,374.6 L213.8,375.7 L214.1,376.7 L214.4,377.6 L214.7,378.5 L215.0,379.2 L215.2,380.0 L215.5,380.6 L215.8,381.2 L216.1,381.8 L216.4,382.3 L216.7,382.8 L217.0,383.2 L217.2,383.5 L217.5,383.9 L217.8,384.2 L218.1,384.5 L218.4,384.7 L218.7,385.0 L219.0,385.2 L219.3,385.3 L219.5,385.5 L219.8,385.7 L220.1,385.8" stroke="#ff0000"/>
<path d="M220.1,385.8 L220.4,385.9 L220.7,386.0 L221.0,386.1 L221.3,386.2 L221.5,386.3 L221.8,386.4 L222.1,386.4 L222.4,386.5 L222.7,386.5 L223.0,386.6 L223.3,386.6 L223.5,386.7 L223.8,386.7 L224.1,386.7 L224.4,386.8 L224.7,386.8 L225.0,386.8 L225.3,386.8 L225.5,386.8 L225.8,386.9 L226.1,386.9 L226.4,386.9 L226.7,386.9 L227.0,386.9 L227.3,386.9 L227.5,386.9 L227.8,386.9 L228.1,386.9 L228.4,386.9 L228.7,387.0 L231.6,387.0 L231.8,381.6 L232.1,376.6 L232.4,372.2 L232.7,368.6 L233.0,366.1 L233.3,364.9 L233.4,364.7 L233.6,364.7 L233.8,365.1 L234.1,365.7 L234.4,366.5 L234.7,367.5 L235.0,368.7 L235.3,369.9 L235.6,371.1 L235.8,372.3 L236.1,373.5 L236.4,374.6 L236.7,375.7 L237.0,376.7 L237.3,377.6 L237.6,378.5 L237.9,379.2 L238.1,380.0 L238.4,380.6 L238.7,381.2 L239.0,381.8 L239.3,382.3 L239.6,382.8 L239.9,383.2 L240.1,383.5 L240.4,383.9 L240.7,384.2 L241.0,384.5 L241.3,384.7 L241.6,385.0 L241.9,385.2 L242.1,385.3 L242.4,385.5 L242.7,385.7 L243.0,385.8 L243.3,385.9 L243.6,386.0 L243.9,386.1 L244.1,386.2 L244.4,386.3 L244.7,386.4 L245.0,386.4 L245.3,386.5 L245.6,386.5 L245.9,386.6 L246.1,386.6 L246.4,386.7 L246.7,386.7 L247.0,386.7 L247.3,386.8 L247.6,386.8 L247.9,386.8 L248.1,386.8 L248.4,386.8 L248.7,386.9 L249.0,386.9 L249.3,386.9 L249.6,386.9 L249.9,386.9 L250.2,386.9 L250.4,386.9 L250.7,386.9 L251.0,386.9 L251.3,386.9 L251.6,387.0 L265.9,387.0" stroke="#0000ff"/>
<path d="M265.9,387.0 L277.3,387.0 L277.6,381.7 L277.9,376.6 L278.2,372.2 L278.5,368.6 L278.8,366.1 L279.0,364.9 L279.2,364.7 L279.3,364.7 L279.6,365.1 L279.9,365.7 L280.2,366.5 L280.5,367.5 L280.8,368.7 L281.1,369.9 L281.3,371.1 L281.6,372.3 L281.9,373.5 L282.2,374.6 L282.5,375.7 L282.8,376.7 L283.1,377.6 L283.3,378.5 L283.6,379.2 L283.9,380.0 L284.2,380.6 L284.5,381.2 L284.8,381.8 L285.1,382.3 L285.3,382.8 L285.6,383.2 L285.9,383.5 L286.2,383.9 L286.5,384.2 L286.8,384.5 L287.1,384.7 L287.3,385.0 L287.6,385.2 L287.9,385.3 L288.2,385.5 L288.5,385.7 L288.8,385.8 L289.1,385.9 L289.4,386.0 L289.6,386.1 L289.9,386.2 L290.2,386.3 L290.5,386.4 L290.8,386.4 L291.1,386.5 L291.4,386.5 L291.6,386.6 L291.9,386.6 L292.2,386.7 L292.5,386.7 L292.8,386.7 L293.1,386.8 L293.4,386.8 L293.6,386.8 L293.9,386.8 L294.2,386.8 L294.5,386.9 L294.8,386.9 L295.1,386.9 L295.4,386.9 L295.6,386.9 L295.9,386.9 L296.2,386.9 L296.5,386.9 L296.8,386.9 L297.1,386.9 L297.4,387.0 L311.7,387.0" stroke="#0000ff"/>
<path d="M311.7,387.0 L323.1,387.0 L323.4,381.7 L323.7,376.6 L324.0,372.2 L324.3,368.6 L324.5,366.1 L324.8,364.9 L325.0,364.7 L325.1,364.7 L325.4,365.1 L325.7,365.7 L326.0,366.5 L326.3,367.5 L326.5,368.7 L326.8,369.9 L327.1,371.1 L327.4,372.3 L327.7,373.5 L328.0,374.6 L328.3,375.7 L328.5,376.7 L328.8,377.6 L329.1,378.5 L329.4,379.2 L329.7,380.0 L330.0,380.6 L330.3,381.2 L330.5,381.8 L330.8,382.3 L331.1,382.8 L331.4,383.2 L331.7,383.5 L332.0,383.9 L332.3,384.2 L332.6,384.5 L332.8,384.7 L333.1,385.0 L333.4,385.2 L333.7,385.3 L334.0,385.5 L334.3,385.7 L334.6,385.8 L334.8,385.9 L335.1,386.0 L335.4,386.1 L335.7,386.2 L336.0,386.3 L336.3,386.4 L336.6,386.4 L336.8,386.5 L337.1,386.5 L337.4,386.6 L337.7,386.6 L338.0,386.7 L338.3,386.7 L338.6,386.7 L338.8,386.8 L339.1,386.8 L339.4,386.8 L339.7,386.8 L340.0,386.8 L340.3,386.9 L340.6,386.9 L340.9,386.9 L341.1,386.9 L341.4,386.9 L341.7,386.9 L342.0,386.9 L342.3,386.9 L342.6,386.9 L342.9,386.9 L343.1,387.0 L357.4,387.0" stroke="#0000ff"/>
<path d="M357.4,387.0 L368.9,387.0 L369.2,381.7 L369.5,376.6 L369.7,372.2 L370.0,368.6 L370.3,366.1 L370.6,364.9 L370.7,364.7 L370.9,364.7 L371.2,365.1 L371.5,365.7 L371.8,366.5 L372.0,367.5 L372.3,368.7 L372.6,369.9 L372.9,371.1 L373.2,372.3 L373.5,373.5 L373.8,374.6 L374.0,375.7 L374.3,376.7 L374.6,377.6 L374.9,378.5 L375.2,379.2 L375.5,380.0 L375.8,380.6 L376.0,381.2 L376.3,381.8 L376.6,382.3 L376.9,382.8 L377.2,383.2 L377.5,383.5 L377.8,383.9 L378.0,384.2 L378.3,384.5 L378.6,384.7 L378.9,385.0 L379.2,385.2 L379.5,385.3 L379.8,385.5 L380.0,385.7 L380.3,385.8 L380.6,385.9 L380.9,386.0 L381.2,386.1 L381.5,386.2 L381.8,386.3 L382.0,386.4 L382.3,386.4 L382.6,386.5 L382.9,386.5 L383.2,386.6 L383.5,386.6 L383.8,386.7 L384.1,386.7 L384.3,386.7 L384.6,386.8 L384.9,386.8 L385.2,386.8 L385.5,386.8 L385.8,386.8 L386.1,386.9 L386.3,386.9 L386.6,386.9 L386.9,386.9 L387.2,386.9 L387.5,386.9 L387.8,386.9 L388.1,386.9 L388.3,386.9 L388.6,386.9 L388.9,387.0 L403.2,387.0" stroke="#0000ff"/>
<path d="M403.2,387.0 L403.5,381.7 L403.8,376.6 L404.1,372.2 L404.4,368.6 L404.7,366.1 L404.9,364.9 L405.1,364.7 L405.2,364.7 L405.5,365.1 L405.8,365.7 L406.1,366.5 L406.4,367.5 L406.7,368.7 L406.9,369.9 L407.2,371.1 L407.5,372.3 L407.8,373.5 L408.1,374.6 L408.4,375.7 L408.7,376.7 L408.9,377.6 L409.2,378.5 L409.5,379.2 L409.8,380.0 L410.1,380.6 L410.4,381.2 L410.7,381.8 L410.9,382.3 L411.2,382.8 L411.5,383.2 L411.8,383.5 L412.1,383.9 L412.4,384.2 L412.7,384.5 L413.0,384.7 L413.2,385.0 L413.5,385.2 L413.8,385.3 L414.1,385.5 L414.4,385.7 L414.7,385.8 L415.0,385.9 L415.2,386.0 L415.5,386.1 L415.8,386.2 L416.1,386.3 L416.4,386.4 L416.7,386.4 L417.0,386.5 L417.2,386.5 L417.5,386.6 L417.8,386.6 L418.1,386.7 L418.4,386.7 L418.7,386.7 L419.0,386.8 L419.2,386.8 L419.5,386.8 L419.8,386.8 L420.1,386.8 L420.4,386.9 L420.7,386.9 L421.0,386.9 L421.2,386.9 L421.5,386.9 L421.8,386.9 L422.1,386.9 L422.4,386.9 L422.7,386.9 L423.0,386.9 L423.2,387.0 L449.0,387.0" stroke="#000000"/>
</g>
<text x="32" y="574.05" class="tk" text-anchor="end">1</text>
<text x="32" y="513.47" class="tk" text-anchor="end">2</text>
<text x="32" y="452.88" class="tk" text-anchor="end">3</text>
<text x="32" y="392.30" class="tk" text-anchor="end">4</text>
<text x="37.00" y="618.30" text-anchor="middle" class="tk">0</text>
<text x="128.56" y="618.30" text-anchor="middle" class="tk">32</text>
<text x="220.11" y="618.30" text-anchor="middle" class="tk">64</text>
<text x="311.67" y="618.30" text-anchor="middle" class="tk">96</text>
<text x="403.22" y="618.30" text-anchor="middle" class="tk">128</text>
<text x="243" y="348.00" text-anchor="middle" class="ti">SVS-4 CR</text>
<text x="3.3" y="337.60" class="pl">B</text>
<text class="al" transform="translate(16.1,157.0) rotate(-90)" text-anchor="middle">stim site k</text>
<text class="al" transform="translate(16.1,478.2) rotate(-90)" text-anchor="middle">stim site k</text>
<text class="al2" x="265.5" y="629.8" text-anchor="middle">t [ms]</text>
</svg>
</body></html>
